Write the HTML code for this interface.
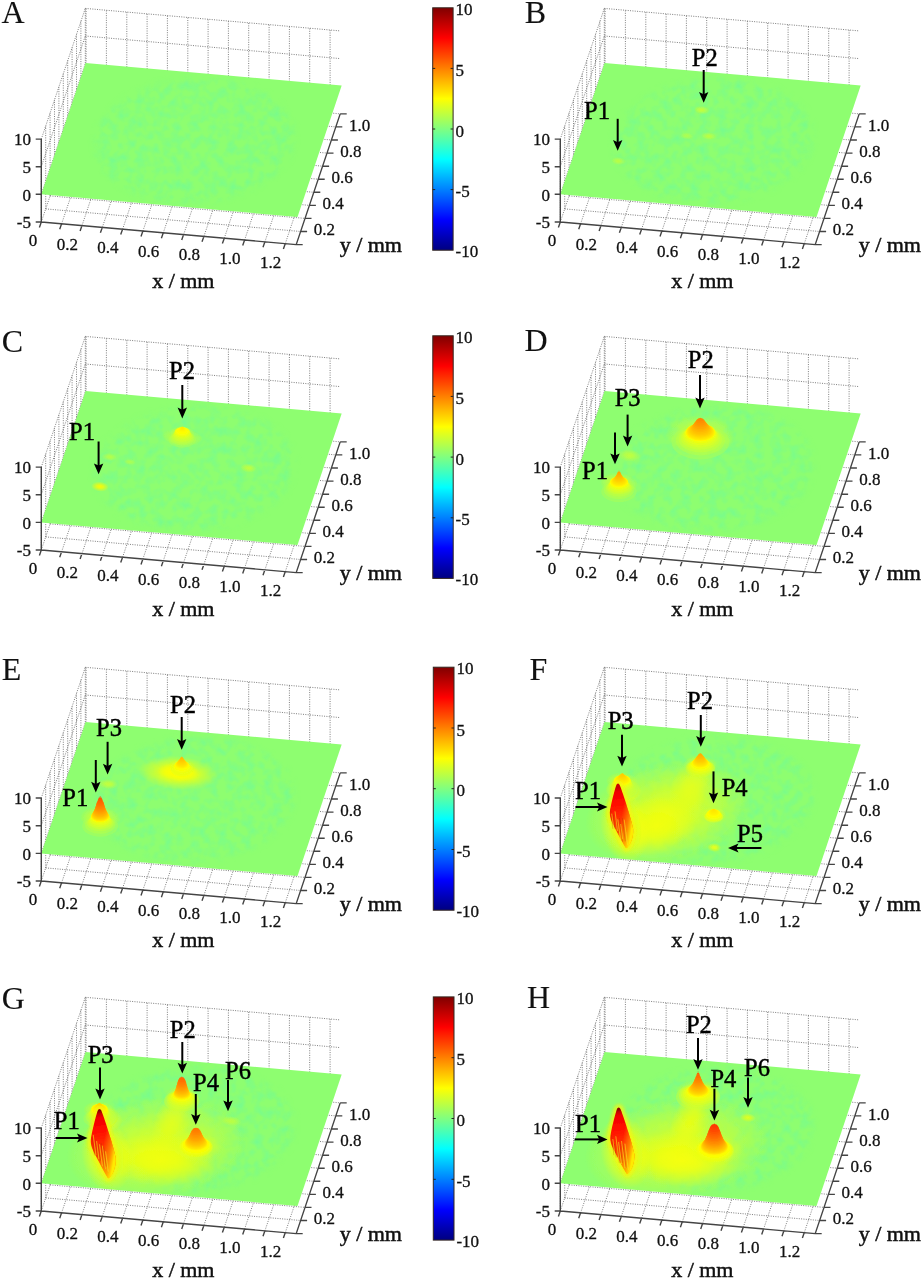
<!DOCTYPE html>
<html lang="en"><head><meta charset="utf-8"><title>Figure: 3D surface maps A-H</title>
<style>
html,body{margin:0;padding:0;background:#fff}
svg{display:block}
text{font-family:"Liberation Serif","Times New Roman",serif;fill:#111;stroke:#111;stroke-width:.3px}
.tk{font-size:17px}
.lb{font-size:22px;stroke-width:.5px}
.pl{font-size:32px;stroke-width:.1px}
.pk{font-size:24.5px;fill:#000;stroke:#000;stroke-width:.45px}
.gr{fill:none;stroke:#707070;stroke-width:.9;stroke-dasharray:1 1.35}
.ax{fill:none;stroke:#444;stroke-width:1.4}
.ar{fill:none;stroke:#000;stroke-width:2}
</style></head>
<body>
<svg width="923" height="1280" viewBox="0 0 923 1280">
<defs><linearGradient id="jet" x1="0" y1="0" x2="0" y2="1"><stop offset="0" stop-color="#800000"/><stop offset="0.025" stop-color="#990000"/><stop offset="0.05" stop-color="#b30000"/><stop offset="0.075" stop-color="#cc0000"/><stop offset="0.1" stop-color="#e50000"/><stop offset="0.125" stop-color="#ff0000"/><stop offset="0.15" stop-color="#ff1a00"/><stop offset="0.175" stop-color="#ff3300"/><stop offset="0.2" stop-color="#ff4c00"/><stop offset="0.225" stop-color="#ff6600"/><stop offset="0.25" stop-color="#ff8000"/><stop offset="0.275" stop-color="#ff9900"/><stop offset="0.3" stop-color="#ffb300"/><stop offset="0.325" stop-color="#ffcc00"/><stop offset="0.35" stop-color="#ffe500"/><stop offset="0.375" stop-color="#ffff00"/><stop offset="0.4" stop-color="#e5ff1a"/><stop offset="0.425" stop-color="#ccff33"/><stop offset="0.45" stop-color="#b3ff4c"/><stop offset="0.475" stop-color="#99ff66"/><stop offset="0.5" stop-color="#80ff80"/><stop offset="0.525" stop-color="#66ff99"/><stop offset="0.55" stop-color="#4dffb2"/><stop offset="0.575" stop-color="#33ffcc"/><stop offset="0.6" stop-color="#1affe5"/><stop offset="0.625" stop-color="#00ffff"/><stop offset="0.65" stop-color="#00e5ff"/><stop offset="0.675" stop-color="#00ccff"/><stop offset="0.7" stop-color="#00b2ff"/><stop offset="0.725" stop-color="#0099ff"/><stop offset="0.75" stop-color="#0080ff"/><stop offset="0.775" stop-color="#0066ff"/><stop offset="0.8" stop-color="#004dff"/><stop offset="0.825" stop-color="#0033ff"/><stop offset="0.85" stop-color="#001aff"/><stop offset="0.875" stop-color="#0000ff"/><stop offset="0.9" stop-color="#0000e6"/><stop offset="0.925" stop-color="#0000cc"/><stop offset="0.95" stop-color="#0000b2"/><stop offset="0.975" stop-color="#000099"/><stop offset="1" stop-color="#000080"/></linearGradient>
<radialGradient id="tex"><stop offset="0" stop-color="#000"/><stop offset=".85" stop-color="#000"/><stop offset="1" stop-color="#000" stop-opacity="0"/></radialGradient>
<filter id="mott" x="-5%" y="-5%" width="110%" height="110%" color-interpolation-filters="sRGB"><feGaussianBlur in="SourceAlpha" stdDeviation="3" result="m"/><feTurbulence type="fractalNoise" baseFrequency=".11" numOctaves="2" seed="5"/><feColorMatrix type="matrix" values="0 0 0 0 .47  0 0 0 0 .985  0 0 0 0 .55  0 0 0 2.0 -.76"/><feComposite in2="m" operator="in"/></filter>
<radialGradient id="h15"><stop offset="0" stop-color="#ccff33"/><stop offset=".35" stop-color="#ccff33" stop-opacity=".8"/><stop offset="1" stop-color="#ccff33" stop-opacity="0"/></radialGradient>
<radialGradient id="h16"><stop offset="0" stop-color="#d1ff2e"/><stop offset=".35" stop-color="#d1ff2e" stop-opacity=".8"/><stop offset="1" stop-color="#d1ff2e" stop-opacity="0"/></radialGradient>
<radialGradient id="h17"><stop offset="0" stop-color="#d6ff29"/><stop offset=".35" stop-color="#d6ff29" stop-opacity=".8"/><stop offset="1" stop-color="#d6ff29" stop-opacity="0"/></radialGradient>
<radialGradient id="h18"><stop offset="0" stop-color="#dbff24"/><stop offset=".35" stop-color="#dbff24" stop-opacity=".8"/><stop offset="1" stop-color="#dbff24" stop-opacity="0"/></radialGradient>
<radialGradient id="h19"><stop offset="0" stop-color="#e0ff1f"/><stop offset=".35" stop-color="#e0ff1f" stop-opacity=".8"/><stop offset="1" stop-color="#e0ff1f" stop-opacity="0"/></radialGradient>
<radialGradient id="h20"><stop offset="0" stop-color="#e5ff1a"/><stop offset=".35" stop-color="#e5ff1a" stop-opacity=".8"/><stop offset="1" stop-color="#e5ff1a" stop-opacity="0"/></radialGradient>
<radialGradient id="h21"><stop offset="0" stop-color="#ebff14"/><stop offset=".35" stop-color="#ebff14" stop-opacity=".8"/><stop offset="1" stop-color="#ebff14" stop-opacity="0"/></radialGradient>
<radialGradient id="h22"><stop offset="0" stop-color="#f0ff0f"/><stop offset=".35" stop-color="#f0ff0f" stop-opacity=".8"/><stop offset="1" stop-color="#f0ff0f" stop-opacity="0"/></radialGradient>
<radialGradient id="h23"><stop offset="0" stop-color="#f5ff0a"/><stop offset=".35" stop-color="#f5ff0a" stop-opacity=".8"/><stop offset="1" stop-color="#f5ff0a" stop-opacity="0"/></radialGradient>
<radialGradient id="h24"><stop offset="0" stop-color="#faff05"/><stop offset=".35" stop-color="#faff05" stop-opacity=".8"/><stop offset="1" stop-color="#faff05" stop-opacity="0"/></radialGradient>
<radialGradient id="h25"><stop offset="0" stop-color="#ffff00"/><stop offset=".35" stop-color="#ffff00" stop-opacity=".8"/><stop offset="1" stop-color="#ffff00" stop-opacity="0"/></radialGradient>
<radialGradient id="h26"><stop offset="0" stop-color="#fffa00"/><stop offset=".35" stop-color="#fffa00" stop-opacity=".8"/><stop offset="1" stop-color="#fffa00" stop-opacity="0"/></radialGradient>
<radialGradient id="k25"><stop offset="0" stop-color="#ffff00"/><stop offset=".3" stop-color="#ffff00"/><stop offset=".5" stop-color="#e5ff1a" stop-opacity=".8"/><stop offset=".75" stop-color="#c6ff39" stop-opacity=".35"/><stop offset="1" stop-color="#b3ff4c" stop-opacity="0"/></radialGradient>
<linearGradient id="rg0" gradientUnits="userSpaceOnUse" x1="626.1" y1="848.3" x2="617.9" y2="785.3"><stop offset="0" stop-color="#ffc700"/><stop offset="0.12" stop-color="#ff8500"/><stop offset="0.3" stop-color="#ff5200"/><stop offset="0.5" stop-color="#ff2e00"/><stop offset="0.72" stop-color="#ff0a00"/><stop offset="0.9" stop-color="#f00000"/><stop offset="0.96" stop-color="#cc0000"/><stop offset="1" stop-color="#cc0000"/></linearGradient>
<linearGradient id="rg0x" gradientUnits="userSpaceOnUse" x1="609.8" y1="812.4" x2="633.7" y2="816.3"><stop offset="0" stop-color="#ff9800" stop-opacity="0"/><stop offset=".5" stop-color="#ff9800" stop-opacity="0"/><stop offset=".8" stop-color="#ffa800" stop-opacity=".6"/><stop offset="1" stop-color="#fff000" stop-opacity=".95"/></linearGradient>
<linearGradient id="rg2" gradientUnits="userSpaceOnUse" x1="108.2" y1="1178.5" x2="99.4" y2="1110.8"><stop offset="0" stop-color="#ffc700"/><stop offset="0.12" stop-color="#ff8500"/><stop offset="0.3" stop-color="#ff5200"/><stop offset="0.5" stop-color="#ff2e00"/><stop offset="0.72" stop-color="#ff0a00"/><stop offset="0.9" stop-color="#f00000"/><stop offset="0.96" stop-color="#c70000"/><stop offset="1" stop-color="#850000"/></linearGradient>
<linearGradient id="rg2x" gradientUnits="userSpaceOnUse" x1="90.8" y1="1140" x2="116.4" y2="1144.2"><stop offset="0" stop-color="#ff9800" stop-opacity="0"/><stop offset=".5" stop-color="#ff9800" stop-opacity="0"/><stop offset=".8" stop-color="#ffa800" stop-opacity=".6"/><stop offset="1" stop-color="#fff000" stop-opacity=".95"/></linearGradient>
<linearGradient id="rg4" gradientUnits="userSpaceOnUse" x1="627.1" y1="1174.2" x2="618.6" y2="1109.2"><stop offset="0" stop-color="#ffc700"/><stop offset="0.12" stop-color="#ff8500"/><stop offset="0.3" stop-color="#ff5200"/><stop offset="0.5" stop-color="#ff2e00"/><stop offset="0.72" stop-color="#ff0a00"/><stop offset="0.9" stop-color="#f00000"/><stop offset="0.96" stop-color="#c70000"/><stop offset="1" stop-color="#800000"/></linearGradient>
<linearGradient id="rg4x" gradientUnits="userSpaceOnUse" x1="610.3" y1="1137.2" x2="634.9" y2="1141.2"><stop offset="0" stop-color="#ff9800" stop-opacity="0"/><stop offset=".5" stop-color="#ff9800" stop-opacity="0"/><stop offset=".8" stop-color="#ffa800" stop-opacity=".6"/><stop offset="1" stop-color="#fff000" stop-opacity=".95"/></linearGradient>
<filter id="bl2" x="-30%" y="-30%" width="160%" height="160%"><feGaussianBlur stdDeviation="1.6"/></filter>
<filter id="bl" x="-5%" y="-5%" width="110%" height="110%"><feGaussianBlur stdDeviation=".7"/></filter></defs>
<rect width="923" height="1280" fill="#fff"/>
<g id="panelA"><path class="gr" d="M86.1 63.7L86.1 8.4M106.4 65.5L106.4 10.2M126.8 67.2L126.8 12M147.1 69.1L147.1 13.8M167.4 70.8L167.4 15.5M187.8 72.7L187.8 17.4M208.1 74.5L208.1 19.2M228.4 76.2L228.4 21M248.7 78.1L248.7 22.8M269.1 79.8L269.1 24.5M289.4 81.7L289.4 26.4M309.7 83.5L309.7 28.2M330.1 85.2L330.1 30M85.3 36L340.2 58.6M85.3 8.4L340.2 30.9M41.3 222L41.3 139.1M45.7 208.9L45.7 126M50.1 195.9L50.1 112.9M54.5 182.8L54.5 99.8M58.9 169.7L58.9 86.8M63.3 156.7L63.3 73.7M67.7 143.6L67.7 60.6M72.1 130.5L72.1 47.6M76.5 117.4L76.5 34.5M80.9 104.4L80.9 21.4M85.3 91.3L85.3 8.4M41.3 222L85.3 91.3M41.3 194.3L85.3 63.7M41.3 166.7L85.3 36M41.3 139.1L85.3 8.4M61.6 223.8L71.1 195.7M82 225.6L91.4 197.5M102.3 227.4L111.8 199.3M122.6 229.2L132.1 201.1M142.9 231L152.4 202.9M163.3 232.8L172.7 204.7M183.6 234.6L193.1 206.5M203.9 236.4L213.4 208.3M224.3 238.2L233.7 210.1M244.6 240L254.1 211.9M264.9 241.8L274.4 213.7M285.3 243.6L294.7 215.5M45.7 208.9L300.6 231.5M50.1 195.9L305 218.4M300.1 204.5L309.4 205.4M304.5 191.5L313.8 192.3M308.9 178.4L318.2 179.2M313.3 165.3L322.6 166.2M317.7 152.3L327 153.1M322.1 139.2L331.4 140M326.5 126.1L335.8 126.9M330.9 113L340.2 113.9"/>
<path fill="#8efe70" d="M41.3 194.3 L297.5 217 L341.7 85.5 L85.6 62.9 Z"/>
<path filter="url(#mott)" d="M292 149.2L294 139.5L293.6 129.8L290.8 120.4L285.5 111.5L278.1 103.3L268.5 96L257.2 89.8L244.3 84.9L230.1 81.3L215.1 79.2L199.6 78.6L183.9 79.5L168.6 82L153.8 85.8L140 91.1L127.6 97.5L116.9 105L108 113.4L101.3 122.5L96.8 132L94.8 141.7L95.2 151.4L98.1 160.8L103.3 169.7L110.8 177.9L120.3 185.2L131.7 191.4L144.6 196.4L158.7 199.9L173.7 202L189.3 202.6L204.9 201.7L220.3 199.3L235.1 195.4L248.8 190.2L261.2 183.7L272 176.2L280.8 167.8L287.6 158.8Z"/>
<path class="ax" d="M41.3 222L296.2 244.6M296.2 244.6L340.2 113.9M41.3 222L41.3 139.1M41.3 222L39.4 227.4M61.6 223.8L59.7 229.2M82 225.6L80.1 231M102.3 227.4L100.4 232.8M122.6 229.2L120.7 234.6M142.9 231L141 236.4M163.3 232.8L161.4 238.2M183.6 234.6L181.7 240M203.9 236.4L202 241.8M224.3 238.2L222.4 243.6M244.6 240L242.7 245.4M264.9 241.8L263 247.2M285.3 243.6L283.4 249M296.2 244.6L302.7 244.6M300.6 231.5L307.1 231.5M305 218.4L311.5 218.4M309.4 205.4L315.9 205.4M313.8 192.3L320.3 192.3M318.2 179.2L324.7 179.2M322.6 166.2L329.1 166.2M327 153.1L333.5 153.1M331.4 140L337.9 140M335.8 126.9L342.3 126.9M340.2 113.9L346.7 113.9M41.3 222L35.7 222M41.3 194.3L35.7 194.3M41.3 166.7L35.7 166.7M41.3 139.1L35.7 139.1"/>
<text class="tk" x="31" y="228.3" text-anchor="end">-5</text>
<text class="tk" x="31" y="200.7" text-anchor="end">0</text>
<text class="tk" x="31" y="173" text-anchor="end">5</text>
<text class="tk" x="31" y="145.4" text-anchor="end">10</text>
<text class="tk" x="37.3" y="246" text-anchor="end">0</text>
<text class="tk" x="78" y="249.6" text-anchor="end">0.2</text>
<text class="tk" x="118.6" y="253.2" text-anchor="end">0.4</text>
<text class="tk" x="159.3" y="256.8" text-anchor="end">0.6</text>
<text class="tk" x="199.9" y="260.4" text-anchor="end">0.8</text>
<text class="tk" x="240.6" y="264" text-anchor="end">1.0</text>
<text class="tk" x="281.3" y="267.6" text-anchor="end">1.2</text>
<text class="tk" x="313.8" y="235.4">0.2</text>
<text class="tk" x="322.6" y="209.3">0.4</text>
<text class="tk" x="331.4" y="183.1">0.6</text>
<text class="tk" x="340.2" y="157">0.8</text>
<text class="tk" x="349" y="130.8">1.0</text>
<text class="lb" x="183.3" y="288" text-anchor="middle">x / mm</text>
<text class="lb" x="370.8" y="252" text-anchor="middle">y / mm</text>
<text class="pl" x="1.6" y="23">A</text></g>
<g id="panelB"><path class="gr" d="M605.1 63.7L605.1 8.4M625.4 65.5L625.4 10.2M645.8 67.2L645.8 12M666.1 69.1L666.1 13.8M686.4 70.8L686.4 15.5M706.7 72.7L706.7 17.4M727.1 74.5L727.1 19.2M747.4 76.2L747.4 21M767.7 78.1L767.7 22.8M788.1 79.8L788.1 24.5M808.4 81.7L808.4 26.4M828.7 83.5L828.7 28.2M849.1 85.2L849.1 30M604.3 36L859.2 58.6M604.3 8.4L859.2 30.9M560.3 222L560.3 139.1M564.7 208.9L564.7 126M569.1 195.9L569.1 112.9M573.5 182.8L573.5 99.8M577.9 169.7L577.9 86.8M582.3 156.7L582.3 73.7M586.7 143.6L586.7 60.6M591.1 130.5L591.1 47.6M595.5 117.4L595.5 34.5M599.9 104.4L599.9 21.4M604.3 91.3L604.3 8.4M560.3 222L604.3 91.3M560.3 194.3L604.3 63.7M560.3 166.7L604.3 36M560.3 139.1L604.3 8.4M580.6 223.8L590.1 195.7M601 225.6L610.4 197.5M621.3 227.4L630.8 199.3M641.6 229.2L651.1 201.1M661.9 231L671.4 202.9M682.3 232.8L691.7 204.7M702.6 234.6L712.1 206.5M722.9 236.4L732.4 208.3M743.3 238.2L752.7 210.1M763.6 240L773.1 211.9M783.9 241.8L793.4 213.7M804.3 243.6L813.7 215.5M564.7 208.9L819.6 231.5M569.1 195.9L824 218.4M819.1 204.5L828.4 205.4M823.5 191.5L832.8 192.3M827.9 178.4L837.2 179.2M832.3 165.3L841.6 166.2M836.7 152.3L846 153.1M841.1 139.2L850.4 140M845.5 126.1L854.8 126.9M849.9 113L859.2 113.9"/>
<path fill="#8efe70" d="M560.3 194.3 L816.5 217 L860.7 85.5 L604.6 62.9 Z"/>
<path filter="url(#mott)" d="M811 149.2L813 139.5L812.6 129.8L809.8 120.4L804.5 111.5L797.1 103.3L787.5 96L776.2 89.8L763.3 84.9L749.1 81.3L734.1 79.2L718.6 78.6L702.9 79.5L687.6 82L672.8 85.8L659 91.1L646.6 97.5L635.9 105L627 113.4L620.3 122.5L615.8 132L613.8 141.7L614.2 151.4L617.1 160.8L622.3 169.7L629.8 177.9L639.3 185.2L650.7 191.4L663.6 196.4L677.7 199.9L692.7 202L708.3 202.6L723.9 201.7L739.3 199.3L754.1 195.4L767.8 190.2L780.2 183.7L791 176.2L799.8 167.8L806.6 158.8Z"/>
<clipPath id="cpB"><path d="M560.3 194.3L815.2 216.9L859.2 86.2V-63.8H604.3V63.7Z"/></clipPath><g clip-path="url(#cpB)"><g filter="url(#bl)"><ellipse cx="702" cy="110" rx="8" ry="4.2" fill="url(#h21)" opacity="0.6" transform="rotate(5 702 110)"/>
<ellipse cx="618.7" cy="161" rx="7.5" ry="4" fill="url(#h20)" opacity="0.55" transform="rotate(5 618.7 161)"/>
<ellipse cx="687" cy="136" rx="7" ry="3.6" fill="url(#h16)" opacity="0.5" transform="rotate(5 687 136)"/>
<ellipse cx="708.7" cy="136" rx="7.5" ry="4" fill="url(#h20)" opacity="0.55" transform="rotate(5 708.7 136)"/></g></g>
<text class="pk" x="704.8" y="66.3" text-anchor="middle">P2</text>
<path class="ar" d="M703.7 70V96.8"/><path d="M703.7 102.8l-4.7 -10.8l4.7 2.2l4.7 -2.2z"/>
<text class="pk" x="597" y="119.4" text-anchor="middle">P1</text>
<path class="ar" d="M617.7 118.8V144.8"/><path d="M617.7 150.8l-4.7 -10.8l4.7 2.2l4.7 -2.2z"/>
<path class="ax" d="M560.3 222L815.2 244.6M815.2 244.6L859.2 113.9M560.3 222L560.3 139.1M560.3 222L558.4 227.4M580.6 223.8L578.7 229.2M601 225.6L599.1 231M621.3 227.4L619.4 232.8M641.6 229.2L639.7 234.6M661.9 231L660 236.4M682.3 232.8L680.4 238.2M702.6 234.6L700.7 240M722.9 236.4L721 241.8M743.3 238.2L741.4 243.6M763.6 240L761.7 245.4M783.9 241.8L782 247.2M804.3 243.6L802.4 249M815.2 244.6L821.7 244.6M819.6 231.5L826.1 231.5M824 218.4L830.5 218.4M828.4 205.4L834.9 205.4M832.8 192.3L839.3 192.3M837.2 179.2L843.7 179.2M841.6 166.2L848.1 166.2M846 153.1L852.5 153.1M850.4 140L856.9 140M854.8 126.9L861.3 126.9M859.2 113.9L865.7 113.9M560.3 222L554.7 222M560.3 194.3L554.7 194.3M560.3 166.7L554.7 166.7M560.3 139.1L554.7 139.1"/>
<text class="tk" x="550" y="228.3" text-anchor="end">-5</text>
<text class="tk" x="550" y="200.7" text-anchor="end">0</text>
<text class="tk" x="550" y="173" text-anchor="end">5</text>
<text class="tk" x="550" y="145.4" text-anchor="end">10</text>
<text class="tk" x="556.3" y="246" text-anchor="end">0</text>
<text class="tk" x="597" y="249.6" text-anchor="end">0.2</text>
<text class="tk" x="637.6" y="253.2" text-anchor="end">0.4</text>
<text class="tk" x="678.3" y="256.8" text-anchor="end">0.6</text>
<text class="tk" x="718.9" y="260.4" text-anchor="end">0.8</text>
<text class="tk" x="759.6" y="264" text-anchor="end">1.0</text>
<text class="tk" x="800.3" y="267.6" text-anchor="end">1.2</text>
<text class="tk" x="832.8" y="235.4">0.2</text>
<text class="tk" x="841.6" y="209.3">0.4</text>
<text class="tk" x="850.4" y="183.1">0.6</text>
<text class="tk" x="859.2" y="157">0.8</text>
<text class="tk" x="868" y="130.8">1.0</text>
<text class="lb" x="702.3" y="288" text-anchor="middle">x / mm</text>
<text class="lb" x="889.8" y="252" text-anchor="middle">y / mm</text>
<text class="pl" x="524.7" y="22.9">B</text></g>
<g id="panelC"><path class="gr" d="M86.1 391.7L86.1 336.4M106.4 393.4L106.4 338.1M126.8 395.3L126.8 340M147.1 397.1L147.1 341.8M167.4 398.9L167.4 343.6M187.8 400.7L187.8 345.4M208.1 402.4L208.1 347.1M228.4 404.3L228.4 349M248.7 406.1L248.7 350.8M269.1 407.9L269.1 352.6M289.4 409.7L289.4 354.4M309.7 411.4L309.7 356.1M330.1 413.3L330.1 358M85.3 364L340.2 386.6M85.3 336.4L340.2 358.9M41.3 550L41.3 467.1M45.7 536.9L45.7 454M50.1 523.9L50.1 440.9M54.5 510.8L54.5 427.8M58.9 497.7L58.9 414.8M63.3 484.6L63.3 401.7M67.7 471.6L67.7 388.6M72.1 458.5L72.1 375.6M76.5 445.4L76.5 362.5M80.9 432.4L80.9 349.4M85.3 419.3L85.3 336.4M41.3 550L85.3 419.3M41.3 522.4L85.3 391.7M41.3 494.7L85.3 364M41.3 467.1L85.3 336.4M61.6 551.8L71.1 523.7M82 553.6L91.4 525.5M102.3 555.4L111.8 527.3M122.6 557.2L132.1 529.1M142.9 559L152.4 530.9M163.3 560.8L172.7 532.7M183.6 562.6L193.1 534.5M203.9 564.4L213.4 536.3M224.3 566.2L233.7 538.1M244.6 568L254.1 539.9M264.9 569.8L274.4 541.7M285.3 571.6L294.7 543.5M45.7 536.9L300.6 559.5M50.1 523.9L305 546.4M300.1 532.5L309.4 533.4M304.5 519.5L313.8 520.3M308.9 506.4L318.2 507.2M313.3 493.3L322.6 494.2M317.7 480.3L327 481.1M322.1 467.2L331.4 468M326.5 454.1L335.8 454.9M330.9 441L340.2 441.9"/>
<path fill="#8efe70" d="M41.3 522.4 L297.5 545 L341.7 413.5 L85.6 390.9 Z"/>
<path filter="url(#mott)" d="M292 477.2L294 467.5L293.6 457.8L290.8 448.4L285.5 439.5L278.1 431.3L268.5 424L257.2 417.8L244.3 412.9L230.1 409.3L215.1 407.2L199.6 406.6L183.9 407.5L168.6 410L153.8 413.8L140 419.1L127.6 425.5L116.9 433L108 441.4L101.3 450.5L96.8 460L94.8 469.7L95.2 479.4L98.1 488.8L103.3 497.7L110.8 505.9L120.3 513.2L131.7 519.4L144.6 524.4L158.7 527.9L173.7 530L189.3 530.6L204.9 529.7L220.3 527.3L235.1 523.4L248.8 518.2L261.2 511.7L272 504.2L280.8 495.8L287.6 486.8Z"/>
<clipPath id="cpC"><path d="M41.3 522.4L296.2 544.9L340.2 414.2V264.2H85.3V391.7Z"/></clipPath><g clip-path="url(#cpC)"><g filter="url(#bl)"><ellipse cx="182" cy="437" rx="20" ry="9" fill="url(#h18)" opacity="0.7" transform="rotate(5 182 437)"/>
<ellipse cx="182.3" cy="432.9" rx="12.2" ry="6.9" fill="url(#h18)" opacity="0.9" transform="rotate(4 182.3 432.9)"/>
<ellipse cx="182.3" cy="439.5" rx="13.8" ry="8.3" fill="#b3ff4c" opacity=".42"/>
<ellipse cx="182.3" cy="438.4" rx="12" ry="7.2" fill="#bdff42" opacity=".42"/>
<ellipse cx="182.3" cy="437.3" rx="10.8" ry="6.5" fill="#c7ff38" opacity=".42"/>
<ellipse cx="182.3" cy="436.2" rx="9.8" ry="5.9" fill="#d1ff2e" opacity=".42"/>
<ellipse cx="182.3" cy="435.1" rx="9.1" ry="5.4" fill="#dbff24" opacity=".42"/>
<ellipse cx="182.3" cy="434" rx="8.5" ry="5.1" fill="#e5ff1a" opacity=".42"/>
<ellipse cx="182.3" cy="432.9" rx="8" ry="4.8" fill="#f0ff0f" opacity=".42"/>
<ellipse cx="182.3" cy="431.8" rx="7.5" ry="4.5" fill="#ebff14"/>
<ellipse cx="182.3" cy="431.6" rx="7.1" ry="4.2" fill="#f1ff0e"/>
<ellipse cx="182.3" cy="431.3" rx="6.1" ry="3.7" fill="#f7ff08"/>
<ellipse cx="182.3" cy="430.8" rx="5" ry="3" fill="#fdff02"/>
<ellipse cx="182.3" cy="430.2" rx="3.9" ry="2.4" fill="#fffb00"/>
<ellipse cx="182.3" cy="429.5" rx="3" ry="1.8" fill="#fff600"/>
<ellipse cx="182.3" cy="428.7" rx="2.2" ry="1.3" fill="#fff000"/>
<ellipse cx="182.3" cy="427.8" rx="1.4" ry="0.9" fill="#ffeb00"/>
<ellipse cx="182.3" cy="426.8" rx="0.7" ry="0.4" fill="#ffe500"/>
<ellipse cx="100" cy="486.6" rx="9" ry="5" fill="url(#h26)" opacity="0.95" transform="rotate(5 100 486.6)"/>
<ellipse cx="109" cy="457" rx="8" ry="4" fill="url(#h17)" opacity="0.6" transform="rotate(5 109 457)"/>
<ellipse cx="248.5" cy="468" rx="8" ry="4.5" fill="url(#h18)" opacity="0.7" transform="rotate(5 248.5 468)"/>
<ellipse cx="130" cy="462" rx="6" ry="3" fill="url(#h15)" opacity="0.5" transform="rotate(5 130 462)"/></g></g>
<text class="pk" x="182" y="379.1" text-anchor="middle">P2</text>
<path class="ar" d="M182.3 385V412.4"/><path d="M182.3 418.4l-4.7 -10.8l4.7 2.2l4.7 -2.2z"/>
<text class="pk" x="82" y="439.8" text-anchor="middle">P1</text>
<path class="ar" d="M98.6 441.5V468.2"/><path d="M98.6 474.2l-4.7 -10.8l4.7 2.2l4.7 -2.2z"/>
<path class="ax" d="M41.3 550L296.2 572.6M296.2 572.6L340.2 441.9M41.3 550L41.3 467.1M41.3 550L39.4 555.4M61.6 551.8L59.7 557.2M82 553.6L80.1 559M102.3 555.4L100.4 560.8M122.6 557.2L120.7 562.6M142.9 559L141 564.4M163.3 560.8L161.4 566.2M183.6 562.6L181.7 568M203.9 564.4L202 569.8M224.3 566.2L222.4 571.6M244.6 568L242.7 573.4M264.9 569.8L263 575.2M285.3 571.6L283.4 577M296.2 572.6L302.7 572.6M300.6 559.5L307.1 559.5M305 546.4L311.5 546.4M309.4 533.4L315.9 533.4M313.8 520.3L320.3 520.3M318.2 507.2L324.7 507.2M322.6 494.2L329.1 494.2M327 481.1L333.5 481.1M331.4 468L337.9 468M335.8 454.9L342.3 454.9M340.2 441.9L346.7 441.9M41.3 550L35.7 550M41.3 522.4L35.7 522.4M41.3 494.7L35.7 494.7M41.3 467.1L35.7 467.1"/>
<text class="tk" x="31" y="556.3" text-anchor="end">-5</text>
<text class="tk" x="31" y="528.6" text-anchor="end">0</text>
<text class="tk" x="31" y="501" text-anchor="end">5</text>
<text class="tk" x="31" y="473.4" text-anchor="end">10</text>
<text class="tk" x="37.3" y="574" text-anchor="end">0</text>
<text class="tk" x="78" y="577.6" text-anchor="end">0.2</text>
<text class="tk" x="118.6" y="581.2" text-anchor="end">0.4</text>
<text class="tk" x="159.3" y="584.8" text-anchor="end">0.6</text>
<text class="tk" x="199.9" y="588.4" text-anchor="end">0.8</text>
<text class="tk" x="240.6" y="592" text-anchor="end">1.0</text>
<text class="tk" x="281.3" y="595.6" text-anchor="end">1.2</text>
<text class="tk" x="313.8" y="563.4">0.2</text>
<text class="tk" x="322.6" y="537.3">0.4</text>
<text class="tk" x="331.4" y="511.1">0.6</text>
<text class="tk" x="340.2" y="485">0.8</text>
<text class="tk" x="349" y="458.8">1.0</text>
<text class="lb" x="183.3" y="616" text-anchor="middle">x / mm</text>
<text class="lb" x="370.8" y="580" text-anchor="middle">y / mm</text>
<text class="pl" x="1.8" y="351.5">C</text></g>
<g id="panelD"><path class="gr" d="M605.1 391.7L605.1 336.4M625.4 393.4L625.4 338.1M645.8 395.3L645.8 340M666.1 397.1L666.1 341.8M686.4 398.9L686.4 343.6M706.7 400.7L706.7 345.4M727.1 402.4L727.1 347.1M747.4 404.3L747.4 349M767.7 406.1L767.7 350.8M788.1 407.9L788.1 352.6M808.4 409.7L808.4 354.4M828.7 411.4L828.7 356.1M849.1 413.3L849.1 358M604.3 364L859.2 386.6M604.3 336.4L859.2 358.9M560.3 550L560.3 467.1M564.7 536.9L564.7 454M569.1 523.9L569.1 440.9M573.5 510.8L573.5 427.8M577.9 497.7L577.9 414.8M582.3 484.6L582.3 401.7M586.7 471.6L586.7 388.6M591.1 458.5L591.1 375.6M595.5 445.4L595.5 362.5M599.9 432.4L599.9 349.4M604.3 419.3L604.3 336.4M560.3 550L604.3 419.3M560.3 522.4L604.3 391.7M560.3 494.7L604.3 364M560.3 467.1L604.3 336.4M580.6 551.8L590.1 523.7M601 553.6L610.4 525.5M621.3 555.4L630.8 527.3M641.6 557.2L651.1 529.1M661.9 559L671.4 530.9M682.3 560.8L691.7 532.7M702.6 562.6L712.1 534.5M722.9 564.4L732.4 536.3M743.3 566.2L752.7 538.1M763.6 568L773.1 539.9M783.9 569.8L793.4 541.7M804.3 571.6L813.7 543.5M564.7 536.9L819.6 559.5M569.1 523.9L824 546.4M819.1 532.5L828.4 533.4M823.5 519.5L832.8 520.3M827.9 506.4L837.2 507.2M832.3 493.3L841.6 494.2M836.7 480.3L846 481.1M841.1 467.2L850.4 468M845.5 454.1L854.8 454.9M849.9 441L859.2 441.9"/>
<path fill="#8efe70" d="M560.3 522.4 L816.5 545 L860.7 413.5 L604.6 390.9 Z"/>
<path filter="url(#mott)" d="M811 477.2L813 467.5L812.6 457.8L809.8 448.4L804.5 439.5L797.1 431.3L787.5 424L776.2 417.8L763.3 412.9L749.1 409.3L734.1 407.2L718.6 406.6L702.9 407.5L687.6 410L672.8 413.8L659 419.1L646.6 425.5L635.9 433L627 441.4L620.3 450.5L615.8 460L613.8 469.7L614.2 479.4L617.1 488.8L622.3 497.7L629.8 505.9L639.3 513.2L650.7 519.4L663.6 524.4L677.7 527.9L692.7 530L708.3 530.6L723.9 529.7L739.3 527.3L754.1 523.4L767.8 518.2L780.2 511.7L791 504.2L799.8 495.8L806.6 486.8Z"/>
<clipPath id="cpD"><path d="M560.3 522.4L815.2 544.9L859.2 414.2V264.2H604.3V391.7Z"/></clipPath><g clip-path="url(#cpD)"><g filter="url(#bl)"><ellipse cx="700.4" cy="435.1" rx="34.7" ry="19.8" fill="url(#h20)" opacity="0.9" transform="rotate(4 700.4 435.1)"/>
<ellipse cx="700.4" cy="442" rx="29" ry="17.4" fill="#b3ff4c" opacity=".42"/>
<ellipse cx="700.4" cy="440.6" rx="24.6" ry="14.8" fill="#bfff40" opacity=".42"/>
<ellipse cx="700.4" cy="439.3" rx="21.7" ry="13" fill="#cbff34" opacity=".42"/>
<ellipse cx="700.4" cy="437.9" rx="19.6" ry="11.8" fill="#d8ff27" opacity=".42"/>
<ellipse cx="700.4" cy="436.6" rx="18" ry="10.8" fill="#e4ff1b" opacity=".42"/>
<ellipse cx="700.4" cy="435.3" rx="16.7" ry="10" fill="#f0ff0f" opacity=".42"/>
<ellipse cx="700.4" cy="433.9" rx="15.6" ry="9.4" fill="#fdff02" opacity=".42"/>
<ellipse cx="700.4" cy="432.6" rx="14.7" ry="8.8" fill="#faff05"/>
<ellipse cx="700.4" cy="432.4" rx="14.5" ry="8.7" fill="#fffa00"/>
<ellipse cx="700.4" cy="432.2" rx="14.1" ry="8.4" fill="#fff100"/>
<ellipse cx="700.4" cy="431.7" rx="13.4" ry="8.1" fill="#ffe800"/>
<ellipse cx="700.4" cy="431.2" rx="12.7" ry="7.6" fill="#ffe000"/>
<ellipse cx="700.4" cy="430.6" rx="11.9" ry="7.1" fill="#ffd700"/>
<ellipse cx="700.4" cy="429.9" rx="11" ry="6.6" fill="#ffcf00"/>
<ellipse cx="700.4" cy="429.1" rx="10.2" ry="6.1" fill="#ffc700"/>
<ellipse cx="700.4" cy="428.2" rx="9.3" ry="5.6" fill="#ffbf00"/>
<ellipse cx="700.4" cy="427.2" rx="8.5" ry="5.1" fill="#ffb700"/>
<ellipse cx="700.4" cy="426.1" rx="7.7" ry="4.6" fill="#ffaf00"/>
<ellipse cx="700.4" cy="425" rx="6.9" ry="4.1" fill="#ffa700"/>
<ellipse cx="700.4" cy="423.8" rx="6.1" ry="3.6" fill="#ff9f00"/>
<ellipse cx="700.4" cy="422.5" rx="5.2" ry="3.1" fill="#ff9700"/>
<ellipse cx="700.4" cy="421.1" rx="4.2" ry="2.5" fill="#ff8f00"/>
<ellipse cx="700.4" cy="419.7" rx="2.9" ry="1.7" fill="#ff8700"/>
<ellipse cx="700.4" cy="418.2" rx="0.7" ry="0.4" fill="#ff8000"/>
<ellipse cx="619" cy="483.1" rx="18.9" ry="10.8" fill="url(#h20)" opacity="0.9" transform="rotate(4 619 483.1)"/>
<ellipse cx="619" cy="491.5" rx="17.7" ry="10.6" fill="#b3ff4c" opacity=".42"/>
<ellipse cx="619" cy="490.1" rx="15" ry="9" fill="#bfff40" opacity=".42"/>
<ellipse cx="619" cy="488.8" rx="13.2" ry="7.9" fill="#cbff34" opacity=".42"/>
<ellipse cx="619" cy="487.4" rx="11.9" ry="7.2" fill="#d8ff27" opacity=".42"/>
<ellipse cx="619" cy="486.1" rx="11" ry="6.6" fill="#e4ff1b" opacity=".42"/>
<ellipse cx="619" cy="484.7" rx="10.2" ry="6.1" fill="#f0ff0f" opacity=".42"/>
<ellipse cx="619" cy="483.4" rx="9.5" ry="5.7" fill="#fdff02" opacity=".42"/>
<ellipse cx="619" cy="482.1" rx="9" ry="5.4" fill="#faff05"/>
<ellipse cx="619" cy="481.9" rx="8.7" ry="5.2" fill="#fffb00"/>
<ellipse cx="619" cy="481.6" rx="8.2" ry="4.9" fill="#fff200"/>
<ellipse cx="619" cy="481.1" rx="7.5" ry="4.5" fill="#ffea00"/>
<ellipse cx="619" cy="480.6" rx="6.7" ry="4" fill="#ffe200"/>
<ellipse cx="619" cy="479.9" rx="5.9" ry="3.5" fill="#ffda00"/>
<ellipse cx="619" cy="479.1" rx="5.1" ry="3" fill="#ffd300"/>
<ellipse cx="619" cy="478.2" rx="4.3" ry="2.6" fill="#ffcb00"/>
<ellipse cx="619" cy="477.2" rx="3.7" ry="2.2" fill="#ffc300"/>
<ellipse cx="619" cy="476.1" rx="3.1" ry="1.9" fill="#ffbc00"/>
<ellipse cx="619" cy="475" rx="2.6" ry="1.6" fill="#ffb400"/>
<ellipse cx="619" cy="473.7" rx="2.1" ry="1.3" fill="#ffad00"/>
<ellipse cx="619" cy="472.4" rx="1.5" ry="0.9" fill="#ffa500"/>
<ellipse cx="619" cy="471" rx="0.7" ry="0.4" fill="#ff9e00"/>
<ellipse cx="629" cy="455.5" rx="12" ry="6" fill="url(#h17)" opacity="0.7" transform="rotate(5 629 455.5)"/></g></g>
<text class="pk" x="700.8" y="367.8" text-anchor="middle">P2</text>
<path class="ar" d="M700 375V402.4"/><path d="M700 408.4l-4.7 -10.8l4.7 2.2l4.7 -2.2z"/>
<text class="pk" x="627.6" y="405.8" text-anchor="middle">P3</text>
<path class="ar" d="M627.6 414.6V440.4"/><path d="M627.6 446.4l-4.7 -10.8l4.7 2.2l4.7 -2.2z"/>
<path class="ar" d="M615 432.4V458.2"/><path d="M615 464.2l-4.7 -10.8l4.7 2.2l4.7 -2.2z"/>
<text class="pk" x="595" y="479.1" text-anchor="middle">P1</text>
<path class="ax" d="M560.3 550L815.2 572.6M815.2 572.6L859.2 441.9M560.3 550L560.3 467.1M560.3 550L558.4 555.4M580.6 551.8L578.7 557.2M601 553.6L599.1 559M621.3 555.4L619.4 560.8M641.6 557.2L639.7 562.6M661.9 559L660 564.4M682.3 560.8L680.4 566.2M702.6 562.6L700.7 568M722.9 564.4L721 569.8M743.3 566.2L741.4 571.6M763.6 568L761.7 573.4M783.9 569.8L782 575.2M804.3 571.6L802.4 577M815.2 572.6L821.7 572.6M819.6 559.5L826.1 559.5M824 546.4L830.5 546.4M828.4 533.4L834.9 533.4M832.8 520.3L839.3 520.3M837.2 507.2L843.7 507.2M841.6 494.2L848.1 494.2M846 481.1L852.5 481.1M850.4 468L856.9 468M854.8 454.9L861.3 454.9M859.2 441.9L865.7 441.9M560.3 550L554.7 550M560.3 522.4L554.7 522.4M560.3 494.7L554.7 494.7M560.3 467.1L554.7 467.1"/>
<text class="tk" x="550" y="556.3" text-anchor="end">-5</text>
<text class="tk" x="550" y="528.6" text-anchor="end">0</text>
<text class="tk" x="550" y="501" text-anchor="end">5</text>
<text class="tk" x="550" y="473.4" text-anchor="end">10</text>
<text class="tk" x="556.3" y="574" text-anchor="end">0</text>
<text class="tk" x="597" y="577.6" text-anchor="end">0.2</text>
<text class="tk" x="637.6" y="581.2" text-anchor="end">0.4</text>
<text class="tk" x="678.3" y="584.8" text-anchor="end">0.6</text>
<text class="tk" x="718.9" y="588.4" text-anchor="end">0.8</text>
<text class="tk" x="759.6" y="592" text-anchor="end">1.0</text>
<text class="tk" x="800.3" y="595.6" text-anchor="end">1.2</text>
<text class="tk" x="832.8" y="563.4">0.2</text>
<text class="tk" x="841.6" y="537.3">0.4</text>
<text class="tk" x="850.4" y="511.1">0.6</text>
<text class="tk" x="859.2" y="485">0.8</text>
<text class="tk" x="868" y="458.8">1.0</text>
<text class="lb" x="702.3" y="616" text-anchor="middle">x / mm</text>
<text class="lb" x="889.8" y="580" text-anchor="middle">y / mm</text>
<text class="pl" x="524.6" y="351.2">D</text></g>
<g id="panelE"><path class="gr" d="M86.1 722.6L86.1 667.3M106.4 724.4L106.4 669.1M126.8 726.3L126.8 671M147.1 728.1L147.1 672.8M167.4 729.9L167.4 674.5M187.8 731.6L187.8 676.3M208.1 733.4L208.1 678.1M228.4 735.3L228.4 680M248.7 737.1L248.7 681.8M269.1 738.9L269.1 683.5M289.4 740.6L289.4 685.3M309.7 742.4L309.7 687.1M330.1 744.3L330.1 689M85.3 695L340.2 717.6M85.3 667.3L340.2 689.9M41.3 881L41.3 798M45.7 867.9L45.7 785M50.1 854.9L50.1 771.9M54.5 841.8L54.5 758.8M58.9 828.7L58.9 745.8M63.3 815.6L63.3 732.7M67.7 802.6L67.7 719.6M72.1 789.5L72.1 706.6M76.5 776.4L76.5 693.5M80.9 763.4L80.9 680.4M85.3 750.3L85.3 667.3M41.3 881L85.3 750.3M41.3 853.4L85.3 722.6M41.3 825.7L85.3 695M41.3 798L85.3 667.3M61.6 882.8L71.1 854.7M82 884.6L91.4 856.5M102.3 886.4L111.8 858.3M122.6 888.2L132.1 860.1M142.9 890L152.4 861.9M163.3 891.8L172.7 863.7M183.6 893.6L193.1 865.5M203.9 895.4L213.4 867.3M224.3 897.2L233.7 869.1M244.6 899L254.1 870.9M264.9 900.8L274.4 872.7M285.3 902.6L294.7 874.5M45.7 867.9L300.6 890.5M50.1 854.9L305 877.4M300.1 863.5L309.4 864.4M304.5 850.5L313.8 851.3M308.9 837.4L318.2 838.2M313.3 824.3L322.6 825.2M317.7 811.3L327 812.1M322.1 798.2L331.4 799M326.5 785.1L335.8 785.9M330.9 772L340.2 772.9"/>
<path fill="#8efe70" d="M41.3 853.4 L297.5 876 L341.7 744.5 L85.6 721.9 Z"/>
<path filter="url(#mott)" d="M292 808.2L294 798.5L293.6 788.8L290.8 779.4L285.5 770.5L278.1 762.3L268.5 755L257.2 748.8L244.3 743.9L230.1 740.3L215.1 738.2L199.6 737.6L183.9 738.5L168.6 741L153.8 744.8L140 750.1L127.6 756.5L116.9 764L108 772.4L101.3 781.5L96.8 791L94.8 800.7L95.2 810.4L98.1 819.8L103.3 828.7L110.8 836.9L120.3 844.2L131.7 850.4L144.6 855.4L158.7 858.9L173.7 861L189.3 861.6L204.9 860.7L220.3 858.3L235.1 854.4L248.8 849.2L261.2 842.7L272 835.2L280.8 826.8L287.6 817.8Z"/>
<clipPath id="cpE"><path d="M41.3 853.4L296.2 875.9L340.2 745.2V595.2H85.3V722.6Z"/></clipPath><g clip-path="url(#cpE)"><g filter="url(#bl)"><ellipse cx="178" cy="773" rx="40" ry="17" fill="url(#h25)" opacity="1.0" transform="rotate(5 178 773)"/>
<ellipse cx="179" cy="772" rx="22" ry="9" fill="url(#h25)" opacity="0.9" transform="rotate(5 179 772)"/>
<ellipse cx="181.8" cy="766.5" rx="13.9" ry="7.9" fill="url(#h20)" opacity="0.9" transform="rotate(4 181.8 766.5)"/>
<ellipse cx="181.8" cy="769.6" rx="11.4" ry="6.8" fill="#e0ff1f" opacity=".42"/>
<ellipse cx="181.8" cy="769" rx="10.5" ry="6.3" fill="#e6ff19" opacity=".42"/>
<ellipse cx="181.8" cy="768.4" rx="9.7" ry="5.8" fill="#ecff13" opacity=".42"/>
<ellipse cx="181.8" cy="767.7" rx="9" ry="5.4" fill="#f2ff0d" opacity=".42"/>
<ellipse cx="181.8" cy="767.1" rx="8.4" ry="5.1" fill="#f8ff07" opacity=".42"/>
<ellipse cx="181.8" cy="766.5" rx="7.9" ry="4.7" fill="#feff01" opacity=".42"/>
<ellipse cx="181.8" cy="765.8" rx="7.4" ry="4.5" fill="#fffb00" opacity=".42"/>
<ellipse cx="181.8" cy="765.2" rx="7" ry="4.2" fill="#faff05"/>
<ellipse cx="181.8" cy="765.1" rx="6.9" ry="4.1" fill="#fffd00"/>
<ellipse cx="181.8" cy="764.9" rx="6.6" ry="3.9" fill="#fff700"/>
<ellipse cx="181.8" cy="764.5" rx="6.1" ry="3.7" fill="#fff100"/>
<ellipse cx="181.8" cy="764.1" rx="5.7" ry="3.4" fill="#ffeb00"/>
<ellipse cx="181.8" cy="763.6" rx="5.1" ry="3.1" fill="#ffe500"/>
<ellipse cx="181.8" cy="763" rx="4.6" ry="2.8" fill="#ffdf00"/>
<ellipse cx="181.8" cy="762.3" rx="4.1" ry="2.4" fill="#ffd900"/>
<ellipse cx="181.8" cy="761.6" rx="3.6" ry="2.1" fill="#ffd400"/>
<ellipse cx="181.8" cy="760.8" rx="3.1" ry="1.8" fill="#ffce00"/>
<ellipse cx="181.8" cy="759.9" rx="2.5" ry="1.5" fill="#ffc800"/>
<ellipse cx="181.8" cy="759" rx="2" ry="1.2" fill="#ffc300"/>
<ellipse cx="181.8" cy="758" rx="1.4" ry="0.9" fill="#ffbd00"/>
<ellipse cx="181.8" cy="756.9" rx="0.7" ry="0.4" fill="#ffb800"/>
<ellipse cx="100.2" cy="818.2" rx="20.2" ry="11.5" fill="url(#h20)" opacity="0.9" transform="rotate(4 100.2 818.2)"/>
<ellipse cx="100.2" cy="826" rx="17.9" ry="10.7" fill="#b3ff4c" opacity=".42"/>
<ellipse cx="100.2" cy="824.7" rx="15.2" ry="9.1" fill="#bfff40" opacity=".42"/>
<ellipse cx="100.2" cy="823.3" rx="13.4" ry="8" fill="#cbff34" opacity=".42"/>
<ellipse cx="100.2" cy="822" rx="12.1" ry="7.2" fill="#d8ff27" opacity=".42"/>
<ellipse cx="100.2" cy="820.6" rx="11.1" ry="6.6" fill="#e4ff1b" opacity=".42"/>
<ellipse cx="100.2" cy="819.3" rx="10.3" ry="6.2" fill="#f0ff0f" opacity=".42"/>
<ellipse cx="100.2" cy="818" rx="9.6" ry="5.8" fill="#fdff02" opacity=".42"/>
<ellipse cx="100.2" cy="816.6" rx="9.1" ry="5.4" fill="#faff05"/>
<ellipse cx="100.2" cy="816.5" rx="9" ry="5.4" fill="#fffa00"/>
<ellipse cx="100.2" cy="816.3" rx="8.9" ry="5.3" fill="#fff100"/>
<ellipse cx="100.2" cy="815.9" rx="8.6" ry="5.2" fill="#ffe800"/>
<ellipse cx="100.2" cy="815.5" rx="8.4" ry="5" fill="#ffdf00"/>
<ellipse cx="100.2" cy="815" rx="8.1" ry="4.8" fill="#ffd600"/>
<ellipse cx="100.2" cy="814.4" rx="7.8" ry="4.7" fill="#ffce00"/>
<ellipse cx="100.2" cy="813.8" rx="7.4" ry="4.4" fill="#ffc500"/>
<ellipse cx="100.2" cy="813" rx="7" ry="4.2" fill="#ffbd00"/>
<ellipse cx="100.2" cy="812.3" rx="6.7" ry="4" fill="#ffb400"/>
<ellipse cx="100.2" cy="811.4" rx="6.3" ry="3.8" fill="#ffac00"/>
<ellipse cx="100.2" cy="810.5" rx="5.9" ry="3.5" fill="#ffa400"/>
<ellipse cx="100.2" cy="809.5" rx="5.5" ry="3.3" fill="#ff9c00"/>
<ellipse cx="100.2" cy="808.5" rx="5.2" ry="3.1" fill="#ff9400"/>
<ellipse cx="100.2" cy="807.4" rx="4.8" ry="2.9" fill="#ff8c00"/>
<ellipse cx="100.2" cy="806.2" rx="4.4" ry="2.7" fill="#ff8400"/>
<ellipse cx="100.2" cy="805" rx="4.1" ry="2.4" fill="#ff7c00"/>
<ellipse cx="100.2" cy="803.8" rx="3.7" ry="2.2" fill="#ff7400"/>
<ellipse cx="100.2" cy="802.5" rx="3.3" ry="2" fill="#ff6c00"/>
<ellipse cx="100.2" cy="801.1" rx="2.8" ry="1.7" fill="#ff6400"/>
<ellipse cx="100.2" cy="799.7" rx="2.3" ry="1.4" fill="#ff5c00"/>
<ellipse cx="100.2" cy="798.2" rx="1.7" ry="1" fill="#ff5400"/>
<ellipse cx="100.2" cy="796.7" rx="0.7" ry="0.4" fill="#ff4c00"/>
<ellipse cx="108.5" cy="784" rx="10" ry="5" fill="url(#h18)" opacity="0.7" transform="rotate(5 108.5 784)"/></g></g>
<text class="pk" x="183" y="713.1" text-anchor="middle">P2</text>
<path class="ar" d="M181.7 717V743.8"/><path d="M181.7 749.8l-4.7 -10.8l4.7 2.2l4.7 -2.2z"/>
<text class="pk" x="109" y="735.8" text-anchor="middle">P3</text>
<path class="ar" d="M107.6 741.8V768.5"/><path d="M107.6 774.5l-4.7 -10.8l4.7 2.2l4.7 -2.2z"/>
<path class="ar" d="M95.8 760V786.5"/><path d="M95.8 792.5l-4.7 -10.8l4.7 2.2l4.7 -2.2z"/>
<text class="pk" x="75.2" y="806.1" text-anchor="middle">P1</text>
<path class="ax" d="M41.3 881L296.2 903.6M296.2 903.6L340.2 772.9M41.3 881L41.3 798M41.3 881L39.4 886.4M61.6 882.8L59.7 888.2M82 884.6L80.1 890M102.3 886.4L100.4 891.8M122.6 888.2L120.7 893.6M142.9 890L141 895.4M163.3 891.8L161.4 897.2M183.6 893.6L181.7 899M203.9 895.4L202 900.8M224.3 897.2L222.4 902.6M244.6 899L242.7 904.4M264.9 900.8L263 906.2M285.3 902.6L283.4 908M296.2 903.6L302.7 903.6M300.6 890.5L307.1 890.5M305 877.4L311.5 877.4M309.4 864.4L315.9 864.4M313.8 851.3L320.3 851.3M318.2 838.2L324.7 838.2M322.6 825.2L329.1 825.2M327 812.1L333.5 812.1M331.4 799L337.9 799M335.8 785.9L342.3 785.9M340.2 772.9L346.7 772.9M41.3 881L35.7 881M41.3 853.4L35.7 853.4M41.3 825.7L35.7 825.7M41.3 798L35.7 798"/>
<text class="tk" x="31" y="887.3" text-anchor="end">-5</text>
<text class="tk" x="31" y="859.6" text-anchor="end">0</text>
<text class="tk" x="31" y="832" text-anchor="end">5</text>
<text class="tk" x="31" y="804.3" text-anchor="end">10</text>
<text class="tk" x="37.3" y="905" text-anchor="end">0</text>
<text class="tk" x="78" y="908.6" text-anchor="end">0.2</text>
<text class="tk" x="118.6" y="912.2" text-anchor="end">0.4</text>
<text class="tk" x="159.3" y="915.8" text-anchor="end">0.6</text>
<text class="tk" x="199.9" y="919.4" text-anchor="end">0.8</text>
<text class="tk" x="240.6" y="923" text-anchor="end">1.0</text>
<text class="tk" x="281.3" y="926.6" text-anchor="end">1.2</text>
<text class="tk" x="313.8" y="894.4">0.2</text>
<text class="tk" x="322.6" y="868.3">0.4</text>
<text class="tk" x="331.4" y="842.1">0.6</text>
<text class="tk" x="340.2" y="816">0.8</text>
<text class="tk" x="349" y="789.8">1.0</text>
<text class="lb" x="183.3" y="947" text-anchor="middle">x / mm</text>
<text class="lb" x="370.8" y="911" text-anchor="middle">y / mm</text>
<text class="pl" x="1.8" y="679.5">E</text></g>
<g id="panelF"><path class="gr" d="M605.1 722.6L605.1 667.3M625.4 724.4L625.4 669.1M645.8 726.3L645.8 671M666.1 728.1L666.1 672.8M686.4 729.9L686.4 674.5M706.7 731.6L706.7 676.3M727.1 733.4L727.1 678.1M747.4 735.3L747.4 680M767.7 737.1L767.7 681.8M788.1 738.9L788.1 683.5M808.4 740.6L808.4 685.3M828.7 742.4L828.7 687.1M849.1 744.3L849.1 689M604.3 695L859.2 717.6M604.3 667.3L859.2 689.9M560.3 881L560.3 798M564.7 867.9L564.7 785M569.1 854.9L569.1 771.9M573.5 841.8L573.5 758.8M577.9 828.7L577.9 745.8M582.3 815.6L582.3 732.7M586.7 802.6L586.7 719.6M591.1 789.5L591.1 706.6M595.5 776.4L595.5 693.5M599.9 763.4L599.9 680.4M604.3 750.3L604.3 667.3M560.3 881L604.3 750.3M560.3 853.4L604.3 722.6M560.3 825.7L604.3 695M560.3 798L604.3 667.3M580.6 882.8L590.1 854.7M601 884.6L610.4 856.5M621.3 886.4L630.8 858.3M641.6 888.2L651.1 860.1M661.9 890L671.4 861.9M682.3 891.8L691.7 863.7M702.6 893.6L712.1 865.5M722.9 895.4L732.4 867.3M743.3 897.2L752.7 869.1M763.6 899L773.1 870.9M783.9 900.8L793.4 872.7M804.3 902.6L813.7 874.5M564.7 867.9L819.6 890.5M569.1 854.9L824 877.4M819.1 863.5L828.4 864.4M823.5 850.5L832.8 851.3M827.9 837.4L837.2 838.2M832.3 824.3L841.6 825.2M836.7 811.3L846 812.1M841.1 798.2L850.4 799M845.5 785.1L854.8 785.9M849.9 772L859.2 772.9"/>
<path fill="#8efe70" d="M560.3 853.4 L816.5 876 L860.7 744.5 L604.6 721.9 Z"/>
<path filter="url(#mott)" d="M811 808.2L813 798.5L812.6 788.8L809.8 779.4L804.5 770.5L797.1 762.3L787.5 755L776.2 748.8L763.3 743.9L749.1 740.3L734.1 738.2L718.6 737.6L702.9 738.5L687.6 741L672.8 744.8L659 750.1L646.6 756.5L635.9 764L627 772.4L620.3 781.5L615.8 791L613.8 800.7L614.2 810.4L617.1 819.8L622.3 828.7L629.8 836.9L639.3 844.2L650.7 850.4L663.6 855.4L677.7 858.9L692.7 861L708.3 861.6L723.9 860.7L739.3 858.3L754.1 854.4L767.8 849.2L780.2 842.7L791 835.2L799.8 826.8L806.6 817.8Z"/>
<clipPath id="cpF"><path d="M560.3 853.4L815.2 875.9L859.2 745.2V595.2H604.3V722.6Z"/></clipPath><g clip-path="url(#cpF)"><g filter="url(#bl)"><ellipse cx="668" cy="812" rx="84" ry="50" fill="url(#h19)" opacity="1.0" transform="rotate(-12 668 812)"/>
<ellipse cx="656" cy="826" rx="42" ry="28" fill="url(#h23)" opacity="0.9" transform="rotate(-20 656 826)"/>
<ellipse cx="692" cy="786" rx="20" ry="32" fill="url(#h21)" opacity="0.8" transform="rotate(25 692 786)"/>
<ellipse cx="700.3" cy="765" rx="16.7" ry="9.5" fill="url(#h20)" opacity="0.9" transform="rotate(4 700.3 765)"/>
<ellipse cx="700.3" cy="768.3" rx="14.8" ry="8.9" fill="#dbff24" opacity=".42"/>
<ellipse cx="700.3" cy="767.6" rx="13.4" ry="8" fill="#e2ff1d" opacity=".42"/>
<ellipse cx="700.3" cy="766.9" rx="12.2" ry="7.3" fill="#e8ff17" opacity=".42"/>
<ellipse cx="700.3" cy="766.2" rx="11.2" ry="6.7" fill="#efff10" opacity=".42"/>
<ellipse cx="700.3" cy="765.5" rx="10.4" ry="6.2" fill="#f6ff09" opacity=".42"/>
<ellipse cx="700.3" cy="764.8" rx="9.6" ry="5.8" fill="#fcff03" opacity=".42"/>
<ellipse cx="700.3" cy="764.1" rx="9" ry="5.4" fill="#fffb00" opacity=".42"/>
<ellipse cx="700.3" cy="763.4" rx="8.4" ry="5" fill="#faff05"/>
<ellipse cx="700.3" cy="763.2" rx="8.3" ry="5" fill="#fffc00"/>
<ellipse cx="700.3" cy="762.9" rx="8" ry="4.8" fill="#fff400"/>
<ellipse cx="700.3" cy="762.5" rx="7.6" ry="4.5" fill="#ffed00"/>
<ellipse cx="700.3" cy="762" rx="7.1" ry="4.2" fill="#ffe600"/>
<ellipse cx="700.3" cy="761.4" rx="6.5" ry="3.9" fill="#ffdf00"/>
<ellipse cx="700.3" cy="760.7" rx="6" ry="3.6" fill="#ffd800"/>
<ellipse cx="700.3" cy="759.9" rx="5.4" ry="3.2" fill="#ffd100"/>
<ellipse cx="700.3" cy="759" rx="4.8" ry="2.9" fill="#ffca00"/>
<ellipse cx="700.3" cy="758" rx="4.2" ry="2.5" fill="#ffc300"/>
<ellipse cx="700.3" cy="757" rx="3.5" ry="2.1" fill="#ffbc00"/>
<ellipse cx="700.3" cy="755.9" rx="2.8" ry="1.7" fill="#ffb600"/>
<ellipse cx="700.3" cy="754.7" rx="1.9" ry="1.2" fill="#ffaf00"/>
<ellipse cx="700.3" cy="753.4" rx="0.7" ry="0.4" fill="#ffa800"/>
<ellipse cx="624" cy="790" rx="18" ry="12" fill="url(#h25)" opacity="0.95" transform="rotate(8 624 790)"/>
<ellipse cx="622.3" cy="781.7" rx="16.3" ry="9.3" fill="url(#h20)" opacity="0.9" transform="rotate(4 622.3 781.7)"/>
<ellipse cx="622.3" cy="789.6" rx="16.1" ry="9.7" fill="#b3ff4c" opacity=".42"/>
<ellipse cx="622.3" cy="788.3" rx="13.7" ry="8.2" fill="#bfff40" opacity=".42"/>
<ellipse cx="622.3" cy="787" rx="12.1" ry="7.3" fill="#cbff34" opacity=".42"/>
<ellipse cx="622.3" cy="785.6" rx="10.9" ry="6.5" fill="#d8ff27" opacity=".42"/>
<ellipse cx="622.3" cy="784.3" rx="10" ry="6" fill="#e4ff1b" opacity=".42"/>
<ellipse cx="622.3" cy="782.9" rx="9.3" ry="5.6" fill="#f0ff0f" opacity=".42"/>
<ellipse cx="622.3" cy="781.6" rx="8.7" ry="5.2" fill="#fdff02" opacity=".42"/>
<ellipse cx="622.3" cy="780.2" rx="8.2" ry="4.9" fill="#faff05"/>
<ellipse cx="622.3" cy="780.1" rx="7.9" ry="4.8" fill="#fffd00"/>
<ellipse cx="622.3" cy="779.8" rx="7.4" ry="4.4" fill="#fff700"/>
<ellipse cx="622.3" cy="779.4" rx="6.7" ry="4" fill="#fff000"/>
<ellipse cx="622.3" cy="778.8" rx="5.9" ry="3.5" fill="#ffea00"/>
<ellipse cx="622.3" cy="778.2" rx="5" ry="3" fill="#ffe400"/>
<ellipse cx="622.3" cy="777.5" rx="4.2" ry="2.5" fill="#ffde00"/>
<ellipse cx="622.3" cy="776.6" rx="3.4" ry="2.1" fill="#ffd800"/>
<ellipse cx="622.3" cy="775.7" rx="2.6" ry="1.6" fill="#ffd200"/>
<ellipse cx="622.3" cy="774.7" rx="1.8" ry="1.1" fill="#ffcd00"/>
<ellipse cx="622.3" cy="773.6" rx="0.7" ry="0.4" fill="#ffc700"/>
<ellipse cx="624.7" cy="827" rx="24" ry="36" fill="url(#h24)" opacity="1.0" transform="rotate(-12 624.7 827)"/>
<ellipse cx="624.7" cy="825" rx="16.3" ry="29.5" fill="url(#k25)" opacity="0.95" transform="rotate(-12 624.7 825)"/>
<path d="M616.1 785.8C614.6 790.1 610.6 805.6 609.8 812.4C609.5 816.8 611.6 822.1 614.8 827.9C617.9 833.7 622.8 843.4 626.1 848.3C629.1 847.3 633.9 838.6 633.2 828.9C632 821.1 622.9 793 620.1 786C619.2 782.7 617 782.6 616.1 785.8Z" fill="#f6f410" stroke="#f6f410" stroke-width="6.5" stroke-linejoin="round" opacity=".75" filter="url(#bl2)"/>
<path d="M616.1 785.8C614.6 790.1 610.6 805.6 609.8 812.4C609.5 816.8 611.6 822.1 614.8 827.9C617.9 833.7 622.8 843.4 626.1 848.3C629.1 847.3 633.9 838.6 633.2 828.9C632 821.1 622.9 793 620.1 786C619.2 782.7 617 782.6 616.1 785.8Z" fill="url(#rg0)"/><path d="M616.1 785.8C614.6 790.1 610.6 805.6 609.8 812.4C609.5 816.8 611.6 822.1 614.8 827.9C617.9 833.7 622.8 843.4 626.1 848.3C629.1 847.3 633.9 838.6 633.2 828.9C632 821.1 622.9 793 620.1 786C619.2 782.7 617 782.6 616.1 785.8Z" fill="url(#rg0x)"/>
<path d="M610.4 808.5L613 828.9M613.2 814.5L615.1 828.8M616.5 820.1L618.1 832.9M619.5 818.2L622.6 841.7M622.3 817.8L625.3 841.3" stroke="#8a2a00" stroke-width=".7" opacity=".35" fill="none"/>
<path d="M611.7 813.6L613.8 829M615 811.3L617.5 830.9M617.8 819.3L620.5 839.7M620.7 824L622.7 839.3M624.2 819.6L627.5 844.7" stroke="#f4f020" stroke-width=".9" opacity=".62" fill="none"/>
<ellipse cx="713.7" cy="814.3" rx="12.7" ry="7.2" fill="url(#h20)" opacity="0.9" transform="rotate(4 713.7 814.3)"/>
<ellipse cx="713.7" cy="817" rx="9.7" ry="5.8" fill="#e5ff1a" opacity=".42"/>
<ellipse cx="713.7" cy="816.5" rx="9" ry="5.4" fill="#ebff14" opacity=".42"/>
<ellipse cx="713.7" cy="815.9" rx="8.5" ry="5.1" fill="#f0ff0f" opacity=".42"/>
<ellipse cx="713.7" cy="815.4" rx="8" ry="4.8" fill="#f5ff0a" opacity=".42"/>
<ellipse cx="713.7" cy="814.8" rx="7.5" ry="4.5" fill="#faff05" opacity=".42"/>
<ellipse cx="713.7" cy="814.3" rx="7.1" ry="4.3" fill="#ffff00" opacity=".42"/>
<ellipse cx="713.7" cy="813.7" rx="6.7" ry="4" fill="#fffa00" opacity=".42"/>
<ellipse cx="713.7" cy="813.2" rx="6.4" ry="3.8" fill="#faff05"/>
<ellipse cx="713.7" cy="813.1" rx="6.1" ry="3.7" fill="#ffff00"/>
<ellipse cx="713.7" cy="812.8" rx="5.5" ry="3.3" fill="#fffa00"/>
<ellipse cx="713.7" cy="812.4" rx="4.8" ry="2.9" fill="#fff600"/>
<ellipse cx="713.7" cy="812" rx="4" ry="2.4" fill="#fff100"/>
<ellipse cx="713.7" cy="811.4" rx="3.2" ry="1.9" fill="#ffed00"/>
<ellipse cx="713.7" cy="810.8" rx="2.5" ry="1.5" fill="#ffe900"/>
<ellipse cx="713.7" cy="810.1" rx="1.7" ry="1" fill="#ffe500"/>
<ellipse cx="713.7" cy="809.3" rx="0.7" ry="0.4" fill="#ffe000"/>
<ellipse cx="714.3" cy="847.5" rx="7" ry="4.5" fill="url(#h23)" opacity="0.9" transform="rotate(5 714.3 847.5)"/></g></g>
<text class="pk" x="700" y="709.1" text-anchor="middle">P2</text>
<path class="ar" d="M700.8 715V740.8"/><path d="M700.8 746.8l-4.7 -10.8l4.7 2.2l4.7 -2.2z"/>
<text class="pk" x="620.6" y="728.8" text-anchor="middle">P3</text>
<path class="ar" d="M622 734.8V760.6"/><path d="M622 766.6l-4.7 -10.8l4.7 2.2l4.7 -2.2z"/>
<text class="pk" x="588" y="799.1" text-anchor="middle">P1</text>
<path class="ar" d="M575.5 807H601.5"/><path d="M607.5 807l-10.5 -4.6l2.2 4.6l-2.2 4.6z"/>
<text class="pk" x="734.6" y="795.8" text-anchor="middle">P4</text>
<path class="ar" d="M713.5 771.4V797.2"/><path d="M713.5 803.2l-4.7 -10.8l4.7 2.2l4.7 -2.2z"/>
<text class="pk" x="750" y="841.5" text-anchor="middle">P5</text>
<path class="ar" d="M761.4 848H734"/><path d="M728 848l10.5 -4.6l-2.2 4.6l2.2 4.6z"/>
<path class="ax" d="M560.3 881L815.2 903.6M815.2 903.6L859.2 772.9M560.3 881L560.3 798M560.3 881L558.4 886.4M580.6 882.8L578.7 888.2M601 884.6L599.1 890M621.3 886.4L619.4 891.8M641.6 888.2L639.7 893.6M661.9 890L660 895.4M682.3 891.8L680.4 897.2M702.6 893.6L700.7 899M722.9 895.4L721 900.8M743.3 897.2L741.4 902.6M763.6 899L761.7 904.4M783.9 900.8L782 906.2M804.3 902.6L802.4 908M815.2 903.6L821.7 903.6M819.6 890.5L826.1 890.5M824 877.4L830.5 877.4M828.4 864.4L834.9 864.4M832.8 851.3L839.3 851.3M837.2 838.2L843.7 838.2M841.6 825.2L848.1 825.2M846 812.1L852.5 812.1M850.4 799L856.9 799M854.8 785.9L861.3 785.9M859.2 772.9L865.7 772.9M560.3 881L554.7 881M560.3 853.4L554.7 853.4M560.3 825.7L554.7 825.7M560.3 798L554.7 798"/>
<text class="tk" x="550" y="887.3" text-anchor="end">-5</text>
<text class="tk" x="550" y="859.6" text-anchor="end">0</text>
<text class="tk" x="550" y="832" text-anchor="end">5</text>
<text class="tk" x="550" y="804.3" text-anchor="end">10</text>
<text class="tk" x="556.3" y="905" text-anchor="end">0</text>
<text class="tk" x="597" y="908.6" text-anchor="end">0.2</text>
<text class="tk" x="637.6" y="912.2" text-anchor="end">0.4</text>
<text class="tk" x="678.3" y="915.8" text-anchor="end">0.6</text>
<text class="tk" x="718.9" y="919.4" text-anchor="end">0.8</text>
<text class="tk" x="759.6" y="923" text-anchor="end">1.0</text>
<text class="tk" x="800.3" y="926.6" text-anchor="end">1.2</text>
<text class="tk" x="832.8" y="894.4">0.2</text>
<text class="tk" x="841.6" y="868.3">0.4</text>
<text class="tk" x="850.4" y="842.1">0.6</text>
<text class="tk" x="859.2" y="816">0.8</text>
<text class="tk" x="868" y="789.8">1.0</text>
<text class="lb" x="702.3" y="947" text-anchor="middle">x / mm</text>
<text class="lb" x="889.8" y="911" text-anchor="middle">y / mm</text>
<text class="pl" x="529.5" y="679.5">F</text></g>
<g id="panelG"><path class="gr" d="M86.1 1052.6L86.1 997.3M106.4 1054.4L106.4 999.1M126.8 1056.2L126.8 1000.9M147.1 1058L147.1 1002.8M167.4 1059.8L167.4 1004.5M187.8 1061.6L187.8 1006.3M208.1 1063.4L208.1 1008.1M228.4 1065.2L228.4 1009.9M248.7 1067L248.7 1011.8M269.1 1068.8L269.1 1013.5M289.4 1070.6L289.4 1015.3M309.7 1072.4L309.7 1017.1M330.1 1074.2L330.1 1018.9M85.3 1025L340.2 1047.6M85.3 997.3L340.2 1019.9M41.3 1211L41.3 1128M45.7 1197.9L45.7 1115M50.1 1184.9L50.1 1101.9M54.5 1171.8L54.5 1088.8M58.9 1158.7L58.9 1075.8M63.3 1145.7L63.3 1062.7M67.7 1132.6L67.7 1049.6M72.1 1119.5L72.1 1036.6M76.5 1106.4L76.5 1023.5M80.9 1093.4L80.9 1010.4M85.3 1080.3L85.3 997.3M41.3 1211L85.3 1080.3M41.3 1183.3L85.3 1052.6M41.3 1155.7L85.3 1025M41.3 1128L85.3 997.3M61.6 1212.8L71.1 1184.7M82 1214.6L91.4 1186.5M102.3 1216.4L111.8 1188.3M122.6 1218.2L132.1 1190.1M142.9 1220L152.4 1191.9M163.3 1221.8L172.7 1193.7M183.6 1223.6L193.1 1195.5M203.9 1225.4L213.4 1197.3M224.3 1227.2L233.7 1199.1M244.6 1229L254.1 1200.9M264.9 1230.8L274.4 1202.7M285.3 1232.6L294.7 1204.5M45.7 1197.9L300.6 1220.5M50.1 1184.9L305 1207.4M300.1 1193.5L309.4 1194.4M304.5 1180.5L313.8 1181.3M308.9 1167.4L318.2 1168.2M313.3 1154.3L322.6 1155.2M317.7 1141.3L327 1142.1M322.1 1128.2L331.4 1129M326.5 1115.1L335.8 1115.9M330.9 1102L340.2 1102.9"/>
<path fill="#8efe70" d="M41.3 1183.3 L297.5 1206 L341.7 1074.5 L85.6 1051.9 Z"/>
<path filter="url(#mott)" d="M292 1138.2L294 1128.5L293.6 1118.8L290.8 1109.4L285.5 1100.5L278.1 1092.3L268.5 1085L257.2 1078.8L244.3 1073.9L230.1 1070.3L215.1 1068.2L199.6 1067.6L183.9 1068.5L168.6 1071L153.8 1074.8L140 1080.1L127.6 1086.5L116.9 1094L108 1102.4L101.3 1111.5L96.8 1121L94.8 1130.7L95.2 1140.4L98.1 1149.8L103.3 1158.7L110.8 1166.9L120.3 1174.2L131.7 1180.4L144.6 1185.4L158.7 1188.9L173.7 1191L189.3 1191.6L204.9 1190.7L220.3 1188.3L235.1 1184.4L248.8 1179.2L261.2 1172.7L272 1165.2L280.8 1156.8L287.6 1147.8Z"/>
<clipPath id="cpG"><path d="M41.3 1183.3L296.2 1205.9L340.2 1075.2V925.2H85.3V1052.6Z"/></clipPath><g clip-path="url(#cpG)"><g filter="url(#bl)"><ellipse cx="158" cy="1148" rx="92" ry="50" fill="url(#h18)" opacity="0.95" transform="rotate(-8 158 1148)"/>
<ellipse cx="160" cy="1160" rx="56" ry="26" fill="url(#h23)" opacity="0.9" transform="rotate(3 160 1160)"/>
<ellipse cx="172" cy="1122" rx="18" ry="36" fill="url(#h21)" opacity="0.75" transform="rotate(22 172 1122)"/>
<ellipse cx="181.8" cy="1096.2" rx="17.9" ry="10.2" fill="url(#h20)" opacity="0.9" transform="rotate(4 181.8 1096.2)"/>
<ellipse cx="181.8" cy="1100.7" rx="17.7" ry="10.6" fill="#d1ff2e" opacity=".42"/>
<ellipse cx="181.8" cy="1099.8" rx="15.5" ry="9.3" fill="#d9ff26" opacity=".42"/>
<ellipse cx="181.8" cy="1098.9" rx="13.7" ry="8.2" fill="#e1ff1e" opacity=".42"/>
<ellipse cx="181.8" cy="1098.1" rx="12.2" ry="7.3" fill="#e9ff16" opacity=".42"/>
<ellipse cx="181.8" cy="1097.2" rx="11.1" ry="6.6" fill="#f1ff0e" opacity=".42"/>
<ellipse cx="181.8" cy="1096.3" rx="10.1" ry="6" fill="#f9ff06" opacity=".42"/>
<ellipse cx="181.8" cy="1095.5" rx="9.2" ry="5.5" fill="#fffd00" opacity=".42"/>
<ellipse cx="181.8" cy="1094.6" rx="8.5" ry="5.1" fill="#faff05"/>
<ellipse cx="181.8" cy="1094.5" rx="8.4" ry="5.1" fill="#fffa00"/>
<ellipse cx="181.8" cy="1094.2" rx="8.3" ry="5" fill="#fff000"/>
<ellipse cx="181.8" cy="1093.8" rx="8.1" ry="4.8" fill="#ffe700"/>
<ellipse cx="181.8" cy="1093.3" rx="7.8" ry="4.7" fill="#ffde00"/>
<ellipse cx="181.8" cy="1092.8" rx="7.5" ry="4.5" fill="#ffd500"/>
<ellipse cx="181.8" cy="1092.1" rx="7.2" ry="4.3" fill="#ffcd00"/>
<ellipse cx="181.8" cy="1091.4" rx="6.9" ry="4.2" fill="#ffc400"/>
<ellipse cx="181.8" cy="1090.5" rx="6.6" ry="4" fill="#ffbb00"/>
<ellipse cx="181.8" cy="1089.6" rx="6.3" ry="3.8" fill="#ffb300"/>
<ellipse cx="181.8" cy="1088.7" rx="6" ry="3.6" fill="#ffab00"/>
<ellipse cx="181.8" cy="1087.6" rx="5.7" ry="3.4" fill="#ffa200"/>
<ellipse cx="181.8" cy="1086.5" rx="5.4" ry="3.2" fill="#ff9a00"/>
<ellipse cx="181.8" cy="1085.3" rx="5.1" ry="3" fill="#ff9200"/>
<ellipse cx="181.8" cy="1084.1" rx="4.7" ry="2.8" fill="#ff8900"/>
<ellipse cx="181.8" cy="1082.8" rx="4.4" ry="2.6" fill="#ff8100"/>
<ellipse cx="181.8" cy="1081.4" rx="3.9" ry="2.3" fill="#ff7900"/>
<ellipse cx="181.8" cy="1079.9" rx="3.3" ry="2" fill="#ff7100"/>
<ellipse cx="181.8" cy="1078.5" rx="2.6" ry="1.5" fill="#ff6900"/>
<ellipse cx="181.8" cy="1076.9" rx="0.7" ry="0.4" fill="#ff6100"/>
<ellipse cx="104" cy="1119" rx="19" ry="13" fill="url(#h25)" opacity="0.95" transform="rotate(8 104 1119)"/>
<ellipse cx="99.5" cy="1110.5" rx="16.3" ry="9.3" fill="url(#h20)" opacity="0.9" transform="rotate(4 99.5 1110.5)"/>
<ellipse cx="99.5" cy="1118.4" rx="16.1" ry="9.7" fill="#b3ff4c" opacity=".42"/>
<ellipse cx="99.5" cy="1117.1" rx="13.7" ry="8.2" fill="#bfff40" opacity=".42"/>
<ellipse cx="99.5" cy="1115.7" rx="12.1" ry="7.3" fill="#cbff34" opacity=".42"/>
<ellipse cx="99.5" cy="1114.4" rx="10.9" ry="6.5" fill="#d8ff27" opacity=".42"/>
<ellipse cx="99.5" cy="1113.1" rx="10" ry="6" fill="#e4ff1b" opacity=".42"/>
<ellipse cx="99.5" cy="1111.7" rx="9.3" ry="5.6" fill="#f0ff0f" opacity=".42"/>
<ellipse cx="99.5" cy="1110.4" rx="8.7" ry="5.2" fill="#fdff02" opacity=".42"/>
<ellipse cx="99.5" cy="1109" rx="8.2" ry="4.9" fill="#faff05"/>
<ellipse cx="99.5" cy="1108.9" rx="7.9" ry="4.8" fill="#fffe00"/>
<ellipse cx="99.5" cy="1108.7" rx="7.4" ry="4.4" fill="#fff900"/>
<ellipse cx="99.5" cy="1108.3" rx="6.7" ry="4" fill="#fff400"/>
<ellipse cx="99.5" cy="1107.9" rx="5.9" ry="3.5" fill="#ffee00"/>
<ellipse cx="99.5" cy="1107.3" rx="5" ry="3" fill="#ffe900"/>
<ellipse cx="99.5" cy="1106.7" rx="4.2" ry="2.5" fill="#ffe400"/>
<ellipse cx="99.5" cy="1106" rx="3.4" ry="2.1" fill="#ffe000"/>
<ellipse cx="99.5" cy="1105.2" rx="2.6" ry="1.6" fill="#ffdb00"/>
<ellipse cx="99.5" cy="1104.4" rx="1.8" ry="1.1" fill="#ffd600"/>
<ellipse cx="99.5" cy="1103.5" rx="0.7" ry="0.4" fill="#ffd100"/>
<ellipse cx="106.6" cy="1155.5" rx="25" ry="37" fill="url(#h24)" opacity="1.0" transform="rotate(-12 106.6 1155.5)"/>
<ellipse cx="106.6" cy="1153.5" rx="17" ry="30.3" fill="url(#k25)" opacity="0.95" transform="rotate(-12 106.6 1153.5)"/>
<path d="M97.4 1111.5C95.9 1116.1 91.6 1132.7 90.8 1140C90.4 1144.7 92.6 1150.4 96.1 1156.6C99.4 1162.9 104.6 1173.3 108.2 1178.5C111.4 1177.4 116.6 1168.1 115.8 1157.7C114.5 1149.4 104.8 1119.2 101.8 1111.7C100.8 1108.2 98.5 1108.1 97.4 1111.5Z" fill="#f6f410" stroke="#f6f410" stroke-width="6.5" stroke-linejoin="round" opacity=".75" filter="url(#bl2)"/>
<path d="M97.4 1111.5C95.9 1116.1 91.6 1132.7 90.8 1140C90.4 1144.7 92.6 1150.4 96.1 1156.6C99.4 1162.9 104.6 1173.3 108.2 1178.5C111.4 1177.4 116.6 1168.1 115.8 1157.7C114.5 1149.4 104.8 1119.2 101.8 1111.7C100.8 1108.2 98.5 1108.1 97.4 1111.5Z" fill="url(#rg2)"/><path d="M97.4 1111.5C95.9 1116.1 91.6 1132.7 90.8 1140C90.4 1144.7 92.6 1150.4 96.1 1156.6C99.4 1162.9 104.6 1173.3 108.2 1178.5C111.4 1177.4 116.6 1168.1 115.8 1157.7C114.5 1149.4 104.8 1119.2 101.8 1111.7C100.8 1108.2 98.5 1108.1 97.4 1111.5Z" fill="url(#rg2x)"/>
<path d="M92.1 1136.7L94.5 1155.3M95.1 1139.7L97.4 1157.5M98.2 1144.8L100.2 1160.7M101.1 1143.1L104.5 1168.7M103.8 1147.5L106.3 1166.6" stroke="#8a2a00" stroke-width=".7" opacity=".35" fill="none"/>
<path d="M93.2 1134.8L95.9 1155M96.6 1141.1L98.9 1159.2M99.5 1144.3L102.4 1166.3M102.3 1145.6L105.3 1169.1M105.6 1151.4L108.2 1171.6" stroke="#f4f020" stroke-width=".9" opacity=".62" fill="none"/>
<ellipse cx="196" cy="1145.8" rx="25.1" ry="14.3" fill="url(#h20)" opacity="0.9" transform="rotate(4 196 1145.8)"/>
<ellipse cx="196" cy="1147.1" rx="16.8" ry="10.1" fill="#ebff14" opacity=".42"/>
<ellipse cx="196" cy="1146.6" rx="15.9" ry="9.6" fill="#efff10" opacity=".42"/>
<ellipse cx="196" cy="1146.2" rx="15.1" ry="9.1" fill="#f3ff0c" opacity=".42"/>
<ellipse cx="196" cy="1145.7" rx="14.3" ry="8.6" fill="#f8ff07" opacity=".42"/>
<ellipse cx="196" cy="1145.2" rx="13.7" ry="8.2" fill="#fcff03" opacity=".42"/>
<ellipse cx="196" cy="1144.7" rx="13" ry="7.8" fill="#fffe00" opacity=".42"/>
<ellipse cx="196" cy="1144.3" rx="12.5" ry="7.5" fill="#fff900" opacity=".42"/>
<ellipse cx="196" cy="1143.8" rx="11.9" ry="7.2" fill="#faff05"/>
<ellipse cx="196" cy="1143.7" rx="11.8" ry="7.1" fill="#fffb00"/>
<ellipse cx="196" cy="1143.4" rx="11.5" ry="6.9" fill="#fff300"/>
<ellipse cx="196" cy="1143.1" rx="11.2" ry="6.7" fill="#ffeb00"/>
<ellipse cx="196" cy="1142.7" rx="10.8" ry="6.5" fill="#ffe300"/>
<ellipse cx="196" cy="1142.2" rx="10.3" ry="6.2" fill="#ffdb00"/>
<ellipse cx="196" cy="1141.6" rx="9.8" ry="5.9" fill="#ffd300"/>
<ellipse cx="196" cy="1140.9" rx="9.3" ry="5.6" fill="#ffcc00"/>
<ellipse cx="196" cy="1140.2" rx="8.8" ry="5.3" fill="#ffc400"/>
<ellipse cx="196" cy="1139.4" rx="8.3" ry="5" fill="#ffbd00"/>
<ellipse cx="196" cy="1138.6" rx="7.8" ry="4.7" fill="#ffb600"/>
<ellipse cx="196" cy="1137.7" rx="7.4" ry="4.4" fill="#ffae00"/>
<ellipse cx="196" cy="1136.7" rx="6.9" ry="4.2" fill="#ffa700"/>
<ellipse cx="196" cy="1135.7" rx="6.5" ry="3.9" fill="#ffa000"/>
<ellipse cx="196" cy="1134.6" rx="6" ry="3.6" fill="#ff9900"/>
<ellipse cx="196" cy="1133.4" rx="5.5" ry="3.3" fill="#ff9200"/>
<ellipse cx="196" cy="1132.2" rx="4.9" ry="2.9" fill="#ff8a00"/>
<ellipse cx="196" cy="1131" rx="4.2" ry="2.5" fill="#ff8300"/>
<ellipse cx="196" cy="1129.7" rx="3.1" ry="1.9" fill="#ff7c00"/>
<ellipse cx="196" cy="1128.3" rx="0.7" ry="0.4" fill="#ff7500"/>
<ellipse cx="231" cy="1121" rx="10" ry="5" fill="url(#h17)" opacity="0.6" transform="rotate(5 231 1121)"/></g></g>
<text class="pk" x="182.8" y="1037.7" text-anchor="middle">P2</text>
<path class="ar" d="M182.3 1042V1067.5"/><path d="M182.3 1073.5l-4.7 -10.8l4.7 2.2l4.7 -2.2z"/>
<text class="pk" x="100.6" y="1063.1" text-anchor="middle">P3</text>
<path class="ar" d="M100 1067.6V1093.4"/><path d="M100 1099.4l-4.7 -10.8l4.7 2.2l4.7 -2.2z"/>
<text class="pk" x="66.8" y="1129.1" text-anchor="middle">P1</text>
<path class="ar" d="M55.5 1138H81.5"/><path d="M87.5 1138l-10.5 -4.6l2.2 4.6l-2.2 4.6z"/>
<text class="pk" x="206" y="1091.1" text-anchor="middle">P4</text>
<path class="ar" d="M195.8 1094V1118.8"/><path d="M195.8 1124.8l-4.7 -10.8l4.7 2.2l4.7 -2.2z"/>
<text class="pk" x="238" y="1078.5" text-anchor="middle">P6</text>
<path class="ar" d="M228 1080V1105.2"/><path d="M228 1111.2l-4.7 -10.8l4.7 2.2l4.7 -2.2z"/>
<path class="ax" d="M41.3 1211L296.2 1233.6M296.2 1233.6L340.2 1102.9M41.3 1211L41.3 1128M41.3 1211L39.4 1216.4M61.6 1212.8L59.7 1218.2M82 1214.6L80.1 1220M102.3 1216.4L100.4 1221.8M122.6 1218.2L120.7 1223.6M142.9 1220L141 1225.4M163.3 1221.8L161.4 1227.2M183.6 1223.6L181.7 1229M203.9 1225.4L202 1230.8M224.3 1227.2L222.4 1232.6M244.6 1229L242.7 1234.4M264.9 1230.8L263 1236.2M285.3 1232.6L283.4 1238M296.2 1233.6L302.7 1233.6M300.6 1220.5L307.1 1220.5M305 1207.4L311.5 1207.4M309.4 1194.4L315.9 1194.4M313.8 1181.3L320.3 1181.3M318.2 1168.2L324.7 1168.2M322.6 1155.2L329.1 1155.2M327 1142.1L333.5 1142.1M331.4 1129L337.9 1129M335.8 1115.9L342.3 1115.9M340.2 1102.9L346.7 1102.9M41.3 1211L35.7 1211M41.3 1183.3L35.7 1183.3M41.3 1155.7L35.7 1155.7M41.3 1128L35.7 1128"/>
<text class="tk" x="31" y="1217.3" text-anchor="end">-5</text>
<text class="tk" x="31" y="1189.6" text-anchor="end">0</text>
<text class="tk" x="31" y="1162" text-anchor="end">5</text>
<text class="tk" x="31" y="1134.3" text-anchor="end">10</text>
<text class="tk" x="37.3" y="1235" text-anchor="end">0</text>
<text class="tk" x="78" y="1238.6" text-anchor="end">0.2</text>
<text class="tk" x="118.6" y="1242.2" text-anchor="end">0.4</text>
<text class="tk" x="159.3" y="1245.8" text-anchor="end">0.6</text>
<text class="tk" x="199.9" y="1249.4" text-anchor="end">0.8</text>
<text class="tk" x="240.6" y="1253" text-anchor="end">1.0</text>
<text class="tk" x="281.3" y="1256.6" text-anchor="end">1.2</text>
<text class="tk" x="313.8" y="1224.4">0.2</text>
<text class="tk" x="322.6" y="1198.3">0.4</text>
<text class="tk" x="331.4" y="1172.1">0.6</text>
<text class="tk" x="340.2" y="1146">0.8</text>
<text class="tk" x="349" y="1119.8">1.0</text>
<text class="lb" x="183.3" y="1277" text-anchor="middle">x / mm</text>
<text class="lb" x="370.8" y="1241" text-anchor="middle">y / mm</text>
<text class="pl" x="1.8" y="1008.9">G</text></g>
<g id="panelH"><path class="gr" d="M605.1 1052.6L605.1 997.3M625.4 1054.4L625.4 999.1M645.8 1056.2L645.8 1000.9M666.1 1058L666.1 1002.8M686.4 1059.8L686.4 1004.5M706.7 1061.6L706.7 1006.3M727.1 1063.4L727.1 1008.1M747.4 1065.2L747.4 1009.9M767.7 1067L767.7 1011.8M788.1 1068.8L788.1 1013.5M808.4 1070.6L808.4 1015.3M828.7 1072.4L828.7 1017.1M849.1 1074.2L849.1 1018.9M604.3 1025L859.2 1047.6M604.3 997.3L859.2 1019.9M560.3 1211L560.3 1128M564.7 1197.9L564.7 1115M569.1 1184.9L569.1 1101.9M573.5 1171.8L573.5 1088.8M577.9 1158.7L577.9 1075.8M582.3 1145.7L582.3 1062.7M586.7 1132.6L586.7 1049.6M591.1 1119.5L591.1 1036.6M595.5 1106.4L595.5 1023.5M599.9 1093.4L599.9 1010.4M604.3 1080.3L604.3 997.3M560.3 1211L604.3 1080.3M560.3 1183.3L604.3 1052.6M560.3 1155.7L604.3 1025M560.3 1128L604.3 997.3M580.6 1212.8L590.1 1184.7M601 1214.6L610.4 1186.5M621.3 1216.4L630.8 1188.3M641.6 1218.2L651.1 1190.1M661.9 1220L671.4 1191.9M682.3 1221.8L691.7 1193.7M702.6 1223.6L712.1 1195.5M722.9 1225.4L732.4 1197.3M743.3 1227.2L752.7 1199.1M763.6 1229L773.1 1200.9M783.9 1230.8L793.4 1202.7M804.3 1232.6L813.7 1204.5M564.7 1197.9L819.6 1220.5M569.1 1184.9L824 1207.4M819.1 1193.5L828.4 1194.4M823.5 1180.5L832.8 1181.3M827.9 1167.4L837.2 1168.2M832.3 1154.3L841.6 1155.2M836.7 1141.3L846 1142.1M841.1 1128.2L850.4 1129M845.5 1115.1L854.8 1115.9M849.9 1102L859.2 1102.9"/>
<path fill="#8efe70" d="M560.3 1183.3 L816.5 1206 L860.7 1074.5 L604.6 1051.9 Z"/>
<path filter="url(#mott)" d="M811 1138.2L813 1128.5L812.6 1118.8L809.8 1109.4L804.5 1100.5L797.1 1092.3L787.5 1085L776.2 1078.8L763.3 1073.9L749.1 1070.3L734.1 1068.2L718.6 1067.6L702.9 1068.5L687.6 1071L672.8 1074.8L659 1080.1L646.6 1086.5L635.9 1094L627 1102.4L620.3 1111.5L615.8 1121L613.8 1130.7L614.2 1140.4L617.1 1149.8L622.3 1158.7L629.8 1166.9L639.3 1174.2L650.7 1180.4L663.6 1185.4L677.7 1188.9L692.7 1191L708.3 1191.6L723.9 1190.7L739.3 1188.3L754.1 1184.4L767.8 1179.2L780.2 1172.7L791 1165.2L799.8 1156.8L806.6 1147.8Z"/>
<clipPath id="cpH"><path d="M560.3 1183.3L815.2 1205.9L859.2 1075.2V925.2H604.3V1052.6Z"/></clipPath><g clip-path="url(#cpH)"><g filter="url(#bl)"><ellipse cx="678" cy="1148" rx="94" ry="50" fill="url(#h18)" opacity="0.95" transform="rotate(-8 678 1148)"/>
<ellipse cx="682" cy="1160" rx="58" ry="27" fill="url(#h24)" opacity="0.9" transform="rotate(3 682 1160)"/>
<ellipse cx="690" cy="1122" rx="18" ry="36" fill="url(#h22)" opacity="0.8" transform="rotate(22 690 1122)"/>
<ellipse cx="698.1" cy="1092.5" rx="22.3" ry="12.7" fill="url(#h20)" opacity="0.9" transform="rotate(4 698.1 1092.5)"/>
<ellipse cx="698.1" cy="1096.8" rx="22.1" ry="13.3" fill="#d1ff2e" opacity=".42"/>
<ellipse cx="698.1" cy="1095.9" rx="19.3" ry="11.6" fill="#d9ff26" opacity=".42"/>
<ellipse cx="698.1" cy="1095" rx="17.1" ry="10.2" fill="#e1ff1e" opacity=".42"/>
<ellipse cx="698.1" cy="1094.2" rx="15.3" ry="9.2" fill="#e9ff16" opacity=".42"/>
<ellipse cx="698.1" cy="1093.3" rx="13.8" ry="8.3" fill="#f1ff0e" opacity=".42"/>
<ellipse cx="698.1" cy="1092.4" rx="12.5" ry="7.5" fill="#f9ff06" opacity=".42"/>
<ellipse cx="698.1" cy="1091.6" rx="11.5" ry="6.9" fill="#fffd00" opacity=".42"/>
<ellipse cx="698.1" cy="1090.7" rx="10.6" ry="6.4" fill="#faff05"/>
<ellipse cx="698.1" cy="1090.6" rx="10.5" ry="6.3" fill="#fff900"/>
<ellipse cx="698.1" cy="1090.3" rx="10.2" ry="6.1" fill="#ffef00"/>
<ellipse cx="698.1" cy="1089.9" rx="9.8" ry="5.9" fill="#ffe500"/>
<ellipse cx="698.1" cy="1089.4" rx="9.3" ry="5.6" fill="#ffdc00"/>
<ellipse cx="698.1" cy="1088.8" rx="8.7" ry="5.2" fill="#ffd200"/>
<ellipse cx="698.1" cy="1088.1" rx="8.1" ry="4.9" fill="#ffc900"/>
<ellipse cx="698.1" cy="1087.3" rx="7.5" ry="4.5" fill="#ffc000"/>
<ellipse cx="698.1" cy="1086.4" rx="6.9" ry="4.1" fill="#ffb700"/>
<ellipse cx="698.1" cy="1085.4" rx="6.2" ry="3.7" fill="#ffae00"/>
<ellipse cx="698.1" cy="1084.4" rx="5.6" ry="3.4" fill="#ffa500"/>
<ellipse cx="698.1" cy="1083.3" rx="5.1" ry="3" fill="#ff9c00"/>
<ellipse cx="698.1" cy="1082.1" rx="4.5" ry="2.7" fill="#ff9300"/>
<ellipse cx="698.1" cy="1080.8" rx="4" ry="2.4" fill="#ff8a00"/>
<ellipse cx="698.1" cy="1079.5" rx="3.4" ry="2.1" fill="#ff8200"/>
<ellipse cx="698.1" cy="1078.1" rx="2.9" ry="1.8" fill="#ff7900"/>
<ellipse cx="698.1" cy="1076.7" rx="2.4" ry="1.4" fill="#ff7000"/>
<ellipse cx="698.1" cy="1075.1" rx="1.9" ry="1.1" fill="#ff6800"/>
<ellipse cx="698.1" cy="1073.6" rx="1.3" ry="0.8" fill="#ff5f00"/>
<ellipse cx="698.1" cy="1071.9" rx="0.7" ry="0.4" fill="#ff5700"/>
<ellipse cx="625.6" cy="1152.2" rx="25" ry="37" fill="url(#h24)" opacity="1.0" transform="rotate(-12 625.6 1152.2)"/>
<ellipse cx="625.6" cy="1150.2" rx="17" ry="30.3" fill="url(#k25)" opacity="0.95" transform="rotate(-12 625.6 1150.2)"/>
<path d="M616.7 1109.8C615.2 1114.2 611.1 1130.2 610.3 1137.2C609.9 1141.7 612.1 1147.2 615.4 1153.2C618.6 1159.2 623.6 1169.2 627.1 1174.2C630.1 1173.2 635.1 1164.2 634.4 1154.2C633.1 1146.2 623.8 1117.2 620.9 1110C619.9 1106.6 617.7 1106.5 616.7 1109.8Z" fill="#f6f410" stroke="#f6f410" stroke-width="6.5" stroke-linejoin="round" opacity=".75" filter="url(#bl2)"/>
<path d="M616.7 1109.8C615.2 1114.2 611.1 1130.2 610.3 1137.2C609.9 1141.7 612.1 1147.2 615.4 1153.2C618.6 1159.2 623.6 1169.2 627.1 1174.2C630.1 1173.2 635.1 1164.2 634.4 1154.2C633.1 1146.2 623.8 1117.2 620.9 1110C619.9 1106.6 617.7 1106.5 616.7 1109.8Z" fill="url(#rg4)"/><path d="M616.7 1109.8C615.2 1114.2 611.1 1130.2 610.3 1137.2C609.9 1141.7 612.1 1147.2 615.4 1153.2C618.6 1159.2 623.6 1169.2 627.1 1174.2C630.1 1173.2 635.1 1164.2 634.4 1154.2C633.1 1146.2 623.8 1117.2 620.9 1110C619.9 1106.6 617.7 1106.5 616.7 1109.8Z" fill="url(#rg4x)"/>
<path d="M611.4 1135.1L614 1155.2M614.4 1143.8L616.2 1157.4M617.3 1146.7L619.4 1163.1M619.9 1143.8L622.4 1162.8M623 1144.1L626.1 1167.7" stroke="#8a2a00" stroke-width=".7" opacity=".35" fill="none"/>
<path d="M612.8 1139L614.9 1155.5M615.8 1136.2L619 1160.6M618.6 1141.9L621.5 1164M621.5 1141L625 1168.2M624.9 1143.6L628.3 1169.9" stroke="#f4f020" stroke-width=".9" opacity=".62" fill="none"/>
<ellipse cx="714.3" cy="1149.5" rx="28.4" ry="16.2" fill="url(#h20)" opacity="0.9" transform="rotate(4 714.3 1149.5)"/>
<ellipse cx="714.3" cy="1150.4" rx="19.6" ry="11.8" fill="#ebff14" opacity=".42"/>
<ellipse cx="714.3" cy="1150" rx="18.6" ry="11.1" fill="#efff10" opacity=".42"/>
<ellipse cx="714.3" cy="1149.5" rx="17.6" ry="10.6" fill="#f3ff0c" opacity=".42"/>
<ellipse cx="714.3" cy="1149" rx="16.7" ry="10" fill="#f8ff07" opacity=".42"/>
<ellipse cx="714.3" cy="1148.5" rx="15.9" ry="9.6" fill="#fcff03" opacity=".42"/>
<ellipse cx="714.3" cy="1148.1" rx="15.2" ry="9.1" fill="#fffe00" opacity=".42"/>
<ellipse cx="714.3" cy="1147.6" rx="14.5" ry="8.7" fill="#fff900" opacity=".42"/>
<ellipse cx="714.3" cy="1147.1" rx="13.9" ry="8.3" fill="#faff05"/>
<ellipse cx="714.3" cy="1147" rx="13.8" ry="8.3" fill="#fff800"/>
<ellipse cx="714.3" cy="1146.7" rx="13.6" ry="8.1" fill="#ffed00"/>
<ellipse cx="714.3" cy="1146.3" rx="13.2" ry="7.9" fill="#ffe300"/>
<ellipse cx="714.3" cy="1145.8" rx="12.8" ry="7.7" fill="#ffd900"/>
<ellipse cx="714.3" cy="1145.3" rx="12.3" ry="7.4" fill="#ffce00"/>
<ellipse cx="714.3" cy="1144.6" rx="11.8" ry="7.1" fill="#ffc500"/>
<ellipse cx="714.3" cy="1143.8" rx="11.3" ry="6.8" fill="#ffbb00"/>
<ellipse cx="714.3" cy="1143" rx="10.8" ry="6.5" fill="#ffb100"/>
<ellipse cx="714.3" cy="1142" rx="10.2" ry="6.1" fill="#ffa700"/>
<ellipse cx="714.3" cy="1141" rx="9.7" ry="5.8" fill="#ff9e00"/>
<ellipse cx="714.3" cy="1140" rx="9.2" ry="5.5" fill="#ff9400"/>
<ellipse cx="714.3" cy="1138.8" rx="8.7" ry="5.2" fill="#ff8b00"/>
<ellipse cx="714.3" cy="1137.6" rx="8.2" ry="4.9" fill="#ff8100"/>
<ellipse cx="714.3" cy="1136.4" rx="7.7" ry="4.6" fill="#ff7800"/>
<ellipse cx="714.3" cy="1135" rx="7.2" ry="4.3" fill="#ff6e00"/>
<ellipse cx="714.3" cy="1133.6" rx="6.7" ry="4" fill="#ff6500"/>
<ellipse cx="714.3" cy="1132.1" rx="6.2" ry="3.7" fill="#ff5c00"/>
<ellipse cx="714.3" cy="1130.6" rx="5.6" ry="3.3" fill="#ff5300"/>
<ellipse cx="714.3" cy="1129" rx="4.9" ry="2.9" fill="#ff4900"/>
<ellipse cx="714.3" cy="1127.4" rx="4.1" ry="2.4" fill="#ff4000"/>
<ellipse cx="714.3" cy="1125.7" rx="3" ry="1.8" fill="#ff3700"/>
<ellipse cx="714.3" cy="1123.9" rx="0.7" ry="0.4" fill="#ff2e00"/>
<ellipse cx="748" cy="1117.6" rx="8" ry="4.5" fill="url(#h21)" opacity="0.85" transform="rotate(5 748 1117.6)"/></g></g>
<text class="pk" x="698.9" y="1032.9" text-anchor="middle">P2</text>
<path class="ar" d="M698 1038V1063.8"/><path d="M698 1069.8l-4.7 -10.8l4.7 2.2l4.7 -2.2z"/>
<text class="pk" x="588" y="1132.1" text-anchor="middle">P1</text>
<path class="ar" d="M574.6 1139.4H601.5"/><path d="M607.5 1139.4l-10.5 -4.6l2.2 4.6l-2.2 4.6z"/>
<text class="pk" x="723.4" y="1087" text-anchor="middle">P4</text>
<path class="ar" d="M714.4 1088.7V1114.5"/><path d="M714.4 1120.5l-4.7 -10.8l4.7 2.2l4.7 -2.2z"/>
<text class="pk" x="757" y="1075.7" text-anchor="middle">P6</text>
<path class="ar" d="M748 1077.5V1101.8"/><path d="M748 1107.8l-4.7 -10.8l4.7 2.2l4.7 -2.2z"/>
<path class="ax" d="M560.3 1211L815.2 1233.6M815.2 1233.6L859.2 1102.9M560.3 1211L560.3 1128M560.3 1211L558.4 1216.4M580.6 1212.8L578.7 1218.2M601 1214.6L599.1 1220M621.3 1216.4L619.4 1221.8M641.6 1218.2L639.7 1223.6M661.9 1220L660 1225.4M682.3 1221.8L680.4 1227.2M702.6 1223.6L700.7 1229M722.9 1225.4L721 1230.8M743.3 1227.2L741.4 1232.6M763.6 1229L761.7 1234.4M783.9 1230.8L782 1236.2M804.3 1232.6L802.4 1238M815.2 1233.6L821.7 1233.6M819.6 1220.5L826.1 1220.5M824 1207.4L830.5 1207.4M828.4 1194.4L834.9 1194.4M832.8 1181.3L839.3 1181.3M837.2 1168.2L843.7 1168.2M841.6 1155.2L848.1 1155.2M846 1142.1L852.5 1142.1M850.4 1129L856.9 1129M854.8 1115.9L861.3 1115.9M859.2 1102.9L865.7 1102.9M560.3 1211L554.7 1211M560.3 1183.3L554.7 1183.3M560.3 1155.7L554.7 1155.7M560.3 1128L554.7 1128"/>
<text class="tk" x="550" y="1217.3" text-anchor="end">-5</text>
<text class="tk" x="550" y="1189.6" text-anchor="end">0</text>
<text class="tk" x="550" y="1162" text-anchor="end">5</text>
<text class="tk" x="550" y="1134.3" text-anchor="end">10</text>
<text class="tk" x="556.3" y="1235" text-anchor="end">0</text>
<text class="tk" x="597" y="1238.6" text-anchor="end">0.2</text>
<text class="tk" x="637.6" y="1242.2" text-anchor="end">0.4</text>
<text class="tk" x="678.3" y="1245.8" text-anchor="end">0.6</text>
<text class="tk" x="718.9" y="1249.4" text-anchor="end">0.8</text>
<text class="tk" x="759.6" y="1253" text-anchor="end">1.0</text>
<text class="tk" x="800.3" y="1256.6" text-anchor="end">1.2</text>
<text class="tk" x="832.8" y="1224.4">0.2</text>
<text class="tk" x="841.6" y="1198.3">0.4</text>
<text class="tk" x="850.4" y="1172.1">0.6</text>
<text class="tk" x="859.2" y="1146">0.8</text>
<text class="tk" x="868" y="1119.8">1.0</text>
<text class="lb" x="702.3" y="1277" text-anchor="middle">x / mm</text>
<text class="lb" x="889.8" y="1241" text-anchor="middle">y / mm</text>
<text class="pl" x="527" y="1008.2">H</text></g>
<g id="colorbars"><rect x="432.7" y="7.8" width="20.4" height="242.4" fill="url(#jet)" stroke="#33261e" stroke-width="1"/>
<text class="tk" x="455.5" y="14.8">10</text>
<text class="tk" x="455.5" y="76">5</text>
<text class="tk" x="455.5" y="136.6">0</text>
<text class="tk" x="455.5" y="197.2">-5</text>
<text class="tk" x="455.5" y="257">-10</text>
<path stroke="#222" stroke-width="1" d="M432.7 68.4h2.5M453.1 68.4h-2.5M432.7 129h2.5M453.1 129h-2.5M432.7 189.6h2.5M453.1 189.6h-2.5"/>
<rect x="432.8" y="335.8" width="20.4" height="242.6" fill="url(#jet)" stroke="#33261e" stroke-width="1"/>
<text class="tk" x="455.6" y="342.8">10</text>
<text class="tk" x="455.6" y="404.1">5</text>
<text class="tk" x="455.6" y="464.7">0</text>
<text class="tk" x="455.6" y="525.3">-5</text>
<text class="tk" x="455.6" y="585.2">-10</text>
<path stroke="#222" stroke-width="1" d="M432.8 396.4h2.5M453.2 396.4h-2.5M432.8 457.1h2.5M453.2 457.1h-2.5M432.8 517.8h2.5M453.2 517.8h-2.5"/>
<rect x="433.3" y="667.2" width="20.7" height="243" fill="url(#jet)" stroke="#33261e" stroke-width="1"/>
<text class="tk" x="456.4" y="674.2">10</text>
<text class="tk" x="456.4" y="735.5">5</text>
<text class="tk" x="456.4" y="796.3">0</text>
<text class="tk" x="456.4" y="857">-5</text>
<text class="tk" x="456.4" y="917">-10</text>
<path stroke="#222" stroke-width="1" d="M433.3 728h2.5M454 728h-2.5M433.3 788.7h2.5M454 788.7h-2.5M433.3 849.5h2.5M454 849.5h-2.5"/>
<rect x="433.3" y="996.9" width="20.7" height="243.2" fill="url(#jet)" stroke="#33261e" stroke-width="1"/>
<text class="tk" x="456.4" y="1003.9">10</text>
<text class="tk" x="456.4" y="1065.3">5</text>
<text class="tk" x="456.4" y="1126.1">0</text>
<text class="tk" x="456.4" y="1186.9">-5</text>
<text class="tk" x="456.4" y="1246.9">-10</text>
<path stroke="#222" stroke-width="1" d="M433.3 1057.7h2.5M454 1057.7h-2.5M433.3 1118.5h2.5M454 1118.5h-2.5M433.3 1179.3h2.5M454 1179.3h-2.5"/></g>
</svg>
</body></html>
